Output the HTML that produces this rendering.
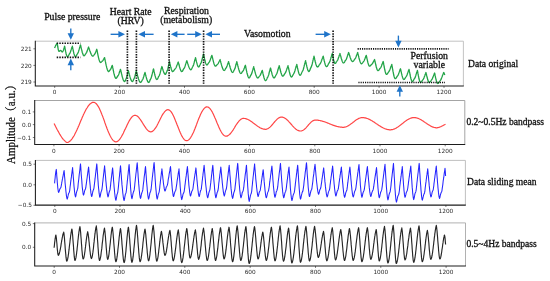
<!DOCTYPE html><html><head><meta charset="utf-8"><title>PPG signal decomposition</title>
<style>
html,body{margin:0;padding:0;background:#fff}
body{width:550px;height:281px;overflow:hidden}
svg{display:block}
.tk{font-family:"DejaVu Sans","Liberation Sans",sans-serif;font-size:5.8px;fill:#2a2a2a}
.lb{font-family:"Liberation Serif","Noto Serif CJK SC",serif;font-size:9.75px;fill:#111;stroke:#111;stroke-width:0.3}
.yl{font-family:"Liberation Serif","Noto Serif CJK SC",serif;font-size:11.8px;fill:#111;stroke:#111;stroke-width:0.25}
.dot{stroke:#111;stroke-width:1.65;stroke-dasharray:1.45 1.15;fill:none}
.ar{stroke:#1f74c9;stroke-width:1.35;fill:none}
.ah{fill:#1f74c9}
</style></head><body>
<svg width="550" height="281" viewBox="0 0 550 281" style="filter:blur(0.4px)">
<rect width="550" height="281" fill="#fff"/>
<path d="M35.3,41.2 H463.4 V86.0" fill="none" stroke="#bcbcbc" stroke-width="0.9"/>
<path d="M35.3,40.800000000000004 V86.0 H463.79999999999995" fill="none" stroke="#1c1c1c" stroke-width="1.05"/>
<line x1="33.4" y1="48.8" x2="35.3" y2="48.8" stroke="#222" stroke-width="0.6"/>
<text class="tk" x="31.8" y="50.90" text-anchor="end">221</text>
<line x1="33.4" y1="65.4" x2="35.3" y2="65.4" stroke="#222" stroke-width="0.6"/>
<text class="tk" x="31.8" y="67.50" text-anchor="end">220</text>
<line x1="33.4" y1="82.0" x2="35.3" y2="82.0" stroke="#222" stroke-width="0.6"/>
<text class="tk" x="31.8" y="84.10" text-anchor="end">219</text>
<line x1="54.7" y1="86.0" x2="54.7" y2="87.9" stroke="#222" stroke-width="0.6"/>
<text class="tk" x="54.7" y="94.10" text-anchor="middle">0</text>
<line x1="119.6" y1="86.0" x2="119.6" y2="87.9" stroke="#222" stroke-width="0.6"/>
<text class="tk" x="119.6" y="94.10" text-anchor="middle">200</text>
<line x1="184.5" y1="86.0" x2="184.5" y2="87.9" stroke="#222" stroke-width="0.6"/>
<text class="tk" x="184.5" y="94.10" text-anchor="middle">400</text>
<line x1="249.4" y1="86.0" x2="249.4" y2="87.9" stroke="#222" stroke-width="0.6"/>
<text class="tk" x="249.4" y="94.10" text-anchor="middle">600</text>
<line x1="314.2" y1="86.0" x2="314.2" y2="87.9" stroke="#222" stroke-width="0.6"/>
<text class="tk" x="314.2" y="94.10" text-anchor="middle">800</text>
<line x1="379.1" y1="86.0" x2="379.1" y2="87.9" stroke="#222" stroke-width="0.6"/>
<text class="tk" x="379.1" y="94.10" text-anchor="middle">1000</text>
<line x1="444.0" y1="86.0" x2="444.0" y2="87.9" stroke="#222" stroke-width="0.6"/>
<text class="tk" x="444.0" y="94.10" text-anchor="middle">1200</text>
<path d="M34.7,100.5 H464.8 V144.4" fill="none" stroke="#9a9a9a" stroke-width="0.9"/>
<path d="M34.7,100.1 V144.4 H465.2" fill="none" stroke="#1c1c1c" stroke-width="1.05"/>
<line x1="32.800000000000004" y1="111.9" x2="34.7" y2="111.9" stroke="#222" stroke-width="0.6"/>
<text class="tk" x="31.2" y="114.00" text-anchor="end">0.1</text>
<line x1="32.800000000000004" y1="124.6" x2="34.7" y2="124.6" stroke="#222" stroke-width="0.6"/>
<text class="tk" x="31.2" y="126.70" text-anchor="end">0.0</text>
<line x1="32.800000000000004" y1="137.5" x2="34.7" y2="137.5" stroke="#222" stroke-width="0.6"/>
<text class="tk" x="31.2" y="139.60" text-anchor="end">−0.1</text>
<line x1="53.9" y1="144.4" x2="53.9" y2="146.3" stroke="#222" stroke-width="0.6"/>
<text class="tk" x="53.9" y="152.60" text-anchor="middle">0</text>
<line x1="119.1" y1="144.4" x2="119.1" y2="146.3" stroke="#222" stroke-width="0.6"/>
<text class="tk" x="119.1" y="152.60" text-anchor="middle">200</text>
<line x1="184.3" y1="144.4" x2="184.3" y2="146.3" stroke="#222" stroke-width="0.6"/>
<text class="tk" x="184.3" y="152.60" text-anchor="middle">400</text>
<line x1="249.6" y1="144.4" x2="249.6" y2="146.3" stroke="#222" stroke-width="0.6"/>
<text class="tk" x="249.6" y="152.60" text-anchor="middle">600</text>
<line x1="314.8" y1="144.4" x2="314.8" y2="146.3" stroke="#222" stroke-width="0.6"/>
<text class="tk" x="314.8" y="152.60" text-anchor="middle">800</text>
<line x1="380.0" y1="144.4" x2="380.0" y2="146.3" stroke="#222" stroke-width="0.6"/>
<text class="tk" x="380.0" y="152.60" text-anchor="middle">1000</text>
<line x1="445.2" y1="144.4" x2="445.2" y2="146.3" stroke="#222" stroke-width="0.6"/>
<text class="tk" x="445.2" y="152.60" text-anchor="middle">1200</text>
<path d="M35.4,160.4 H465.4 V205.1" fill="none" stroke="#b8b8b8" stroke-width="0.9"/>
<path d="M35.4,160.0 V205.1 H465.79999999999995" fill="none" stroke="#1c1c1c" stroke-width="1.05"/>
<line x1="33.5" y1="164.2" x2="35.4" y2="164.2" stroke="#222" stroke-width="0.6"/>
<text class="tk" x="31.9" y="166.30" text-anchor="end">0.5</text>
<line x1="33.5" y1="184.8" x2="35.4" y2="184.8" stroke="#222" stroke-width="0.6"/>
<text class="tk" x="31.9" y="186.90" text-anchor="end">0.0</text>
<line x1="33.5" y1="205.3" x2="35.4" y2="205.3" stroke="#222" stroke-width="0.6"/>
<text class="tk" x="31.9" y="207.40" text-anchor="end">−0.5</text>
<line x1="54.8" y1="205.1" x2="54.8" y2="207.0" stroke="#222" stroke-width="0.6"/>
<text class="tk" x="54.8" y="213.00" text-anchor="middle">0</text>
<line x1="120.0" y1="205.1" x2="120.0" y2="207.0" stroke="#222" stroke-width="0.6"/>
<text class="tk" x="120.0" y="213.00" text-anchor="middle">200</text>
<line x1="185.2" y1="205.1" x2="185.2" y2="207.0" stroke="#222" stroke-width="0.6"/>
<text class="tk" x="185.2" y="213.00" text-anchor="middle">400</text>
<line x1="250.3" y1="205.1" x2="250.3" y2="207.0" stroke="#222" stroke-width="0.6"/>
<text class="tk" x="250.3" y="213.00" text-anchor="middle">600</text>
<line x1="315.5" y1="205.1" x2="315.5" y2="207.0" stroke="#222" stroke-width="0.6"/>
<text class="tk" x="315.5" y="213.00" text-anchor="middle">800</text>
<line x1="380.7" y1="205.1" x2="380.7" y2="207.0" stroke="#222" stroke-width="0.6"/>
<text class="tk" x="380.7" y="213.00" text-anchor="middle">1000</text>
<line x1="445.9" y1="205.1" x2="445.9" y2="207.0" stroke="#222" stroke-width="0.6"/>
<text class="tk" x="445.9" y="213.00" text-anchor="middle">1200</text>
<path d="M34.7,222.9 H465.5 V266.0" fill="none" stroke="#a8a8a8" stroke-width="0.9"/>
<path d="M34.7,222.5 V266.0 H465.9" fill="none" stroke="#1c1c1c" stroke-width="1.05"/>
<line x1="32.800000000000004" y1="223.6" x2="34.7" y2="223.6" stroke="#222" stroke-width="0.6"/>
<text class="tk" x="31.2" y="225.70" text-anchor="end">0.5</text>
<line x1="32.800000000000004" y1="247.3" x2="34.7" y2="247.3" stroke="#222" stroke-width="0.6"/>
<text class="tk" x="31.2" y="249.40" text-anchor="end">0.0</text>
<line x1="54.2" y1="266.0" x2="54.2" y2="267.9" stroke="#222" stroke-width="0.6"/>
<text class="tk" x="54.2" y="274.10" text-anchor="middle">0</text>
<line x1="119.5" y1="266.0" x2="119.5" y2="267.9" stroke="#222" stroke-width="0.6"/>
<text class="tk" x="119.5" y="274.10" text-anchor="middle">200</text>
<line x1="184.8" y1="266.0" x2="184.8" y2="267.9" stroke="#222" stroke-width="0.6"/>
<text class="tk" x="184.8" y="274.10" text-anchor="middle">400</text>
<line x1="250.2" y1="266.0" x2="250.2" y2="267.9" stroke="#222" stroke-width="0.6"/>
<text class="tk" x="250.2" y="274.10" text-anchor="middle">600</text>
<line x1="315.5" y1="266.0" x2="315.5" y2="267.9" stroke="#222" stroke-width="0.6"/>
<text class="tk" x="315.5" y="274.10" text-anchor="middle">800</text>
<line x1="380.8" y1="266.0" x2="380.8" y2="267.9" stroke="#222" stroke-width="0.6"/>
<text class="tk" x="380.8" y="274.10" text-anchor="middle">1000</text>
<line x1="446.1" y1="266.0" x2="446.1" y2="267.9" stroke="#222" stroke-width="0.6"/>
<text class="tk" x="446.1" y="274.10" text-anchor="middle">1200</text>
<path d="M54.6,48.0 L54.9,47.4 L55.1,46.8 L55.4,46.2 L55.6,45.6 L55.9,45.1 L56.2,44.6 L56.4,44.2 L56.7,43.8 L56.9,43.5 L57.2,43.3 L57.5,44.9 L57.7,46.5 L58.0,48.0 L58.2,49.3 L58.5,50.4 L58.7,51.1 L59.0,51.4 L59.3,51.3 L59.5,51.1 L59.8,50.9 L60.1,50.6 L60.3,50.5 L60.6,50.4 L60.8,50.5 L61.1,50.7 L61.3,51.0 L61.6,51.4 L61.8,51.7 L62.1,51.9 L62.3,52.0 L62.6,51.8 L62.8,51.5 L63.1,51.0 L63.3,50.4 L63.6,49.7 L63.8,48.9 L64.1,48.0 L64.3,47.1 L64.6,46.2 L64.9,47.5 L65.1,48.8 L65.4,50.2 L65.6,51.4 L65.9,52.6 L66.1,53.7 L66.4,54.7 L66.6,55.5 L66.9,56.1 L67.1,56.5 L67.4,56.7 L67.6,56.6 L67.9,56.4 L68.1,56.2 L68.4,55.8 L68.6,55.3 L68.9,54.8 L69.1,54.4 L69.4,54.0 L69.6,53.7 L69.8,53.3 L70.1,52.9 L70.3,52.3 L70.6,51.6 L70.8,50.7 L71.1,49.9 L71.3,49.1 L71.6,48.4 L71.8,47.6 L72.1,46.9 L72.3,46.2 L72.6,47.4 L72.8,48.6 L73.1,49.8 L73.3,51.0 L73.6,52.1 L73.8,53.2 L74.1,54.1 L74.4,55.0 L74.6,55.6 L74.9,56.2 L75.1,56.5 L75.4,56.7 L75.7,56.6 L75.9,56.4 L76.2,56.1 L76.4,55.7 L76.7,55.2 L76.9,54.6 L77.2,54.1 L77.4,53.7 L77.7,53.3 L78.0,52.9 L78.2,52.4 L78.5,51.7 L78.7,50.9 L79.0,50.0 L79.2,49.1 L79.5,48.2 L79.7,47.4 L80.0,46.5 L80.2,45.7 L80.5,44.9 L80.8,46.0 L81.0,47.1 L81.2,48.1 L81.5,49.2 L81.8,50.2 L82.0,51.2 L82.2,52.2 L82.5,53.0 L82.8,53.8 L83.0,54.4 L83.2,55.0 L83.5,55.4 L83.8,55.7 L84.0,55.8 L84.3,55.7 L84.5,55.5 L84.8,55.3 L85.0,54.9 L85.3,54.4 L85.5,54.0 L85.8,53.6 L86.0,53.3 L86.3,53.0 L86.6,52.5 L86.8,52.0 L87.1,51.3 L87.3,50.5 L87.6,49.7 L87.8,49.0 L88.1,48.3 L88.3,47.7 L88.6,47.0 L88.8,47.7 L89.1,48.5 L89.3,49.2 L89.6,50.0 L89.8,50.7 L90.1,51.5 L90.3,52.1 L90.6,52.8 L90.8,53.4 L91.1,54.0 L91.3,54.5 L91.6,55.0 L91.8,55.4 L92.1,55.7 L92.3,55.9 L92.6,56.1 L92.8,56.2 L93.0,56.1 L93.3,56.0 L93.5,55.7 L93.8,55.3 L94.0,54.9 L94.3,54.6 L94.5,54.3 L94.8,54.0 L95.0,53.6 L95.3,53.1 L95.5,52.4 L95.8,51.7 L96.0,51.1 L96.3,50.5 L96.5,49.9 L96.8,49.3 L97.0,50.5 L97.3,51.7 L97.5,53.0 L97.8,54.2 L98.0,55.3 L98.3,56.5 L98.5,57.6 L98.8,58.6 L99.0,59.5 L99.3,60.3 L99.5,61.0 L99.8,61.6 L100.0,62.0 L100.3,62.3 L100.5,62.5 L100.8,62.4 L101.0,62.3 L101.3,62.1 L101.5,61.9 L101.8,61.6 L102.0,61.3 L102.3,61.1 L102.5,60.9 L102.8,60.7 L103.1,60.3 L103.3,59.8 L103.6,59.3 L103.8,58.9 L104.1,58.4 L104.3,58.0 L104.6,57.6 L104.8,58.8 L105.1,60.0 L105.3,61.2 L105.6,62.4 L105.8,63.6 L106.1,64.8 L106.3,65.9 L106.6,66.9 L106.8,67.9 L107.1,68.8 L107.3,69.5 L107.6,70.2 L107.8,70.7 L108.1,71.2 L108.3,71.4 L108.6,71.6 L108.8,71.5 L109.1,71.3 L109.3,71.1 L109.6,70.7 L109.8,70.3 L110.1,70.0 L110.3,69.7 L110.6,69.4 L110.8,69.0 L111.1,68.4 L111.3,67.7 L111.6,67.1 L111.8,66.5 L112.1,65.9 L112.3,65.3 L112.6,66.6 L112.8,67.9 L113.1,69.2 L113.3,70.5 L113.6,71.7 L113.8,72.9 L114.1,74.0 L114.4,75.0 L114.6,76.0 L114.9,76.7 L115.1,77.4 L115.4,77.9 L115.6,78.2 L115.9,78.4 L116.2,78.3 L116.4,78.1 L116.7,77.8 L116.9,77.4 L117.2,77.0 L117.4,76.5 L117.7,76.2 L117.9,75.8 L118.2,75.5 L118.5,75.0 L118.7,74.5 L119.0,73.7 L119.2,72.9 L119.5,72.1 L119.7,71.4 L120.0,70.7 L120.2,70.0 L120.5,69.3 L120.8,70.4 L121.0,71.4 L121.2,72.5 L121.5,73.6 L121.8,74.6 L122.0,75.6 L122.2,76.6 L122.5,77.5 L122.8,78.3 L123.0,79.1 L123.2,79.8 L123.5,80.4 L123.8,80.8 L124.0,81.2 L124.2,81.5 L124.5,81.6 L124.8,81.5 L125.0,81.2 L125.3,80.7 L125.5,80.0 L125.8,79.3 L126.0,78.8 L126.3,78.3 L126.5,77.8 L126.8,77.0 L127.0,75.9 L127.3,74.8 L127.5,73.7 L127.8,72.6 L128.0,71.6 L128.3,70.6 L128.6,71.5 L128.8,72.5 L129.1,73.5 L129.3,74.4 L129.6,75.3 L129.8,76.2 L130.1,77.1 L130.3,77.9 L130.6,78.7 L130.8,79.4 L131.1,80.0 L131.3,80.5 L131.6,80.9 L131.8,81.3 L132.1,81.5 L132.3,81.6 L132.6,81.5 L132.8,81.2 L133.1,80.8 L133.3,80.2 L133.6,79.6 L133.8,79.0 L134.1,78.6 L134.3,78.1 L134.6,77.5 L134.8,76.7 L135.1,75.6 L135.3,74.6 L135.6,73.5 L135.8,72.6 L136.1,71.6 L136.3,70.7 L136.5,71.7 L136.8,72.6 L137.0,73.6 L137.3,74.5 L137.5,75.5 L137.8,76.4 L138.0,77.3 L138.3,78.2 L138.5,78.9 L138.8,79.7 L139.0,80.3 L139.3,80.9 L139.5,81.4 L139.8,81.8 L140.0,82.2 L140.3,82.4 L140.5,82.5 L140.8,82.4 L141.0,82.2 L141.2,81.9 L141.5,81.5 L141.8,80.9 L142.0,80.5 L142.2,80.0 L142.5,79.7 L142.8,79.3 L143.0,78.8 L143.2,78.2 L143.5,77.3 L143.8,76.5 L144.0,75.6 L144.2,74.8 L144.5,74.0 L144.8,73.3 L145.0,72.5 L145.3,73.5 L145.5,74.5 L145.8,75.5 L146.0,76.4 L146.3,77.4 L146.5,78.3 L146.8,79.2 L147.1,79.9 L147.3,80.6 L147.6,81.2 L147.8,81.7 L148.1,82.1 L148.3,82.4 L148.6,82.5 L148.8,82.4 L149.1,82.2 L149.3,81.8 L149.6,81.3 L149.8,80.7 L150.1,80.1 L150.3,79.5 L150.6,79.1 L150.8,78.6 L151.1,78.1 L151.3,77.5 L151.5,76.8 L151.8,75.8 L152.0,74.8 L152.3,73.7 L152.5,72.7 L152.8,71.7 L153.0,70.8 L153.3,69.8 L153.5,68.9 L153.8,70.0 L154.0,71.2 L154.3,72.3 L154.5,73.4 L154.8,74.5 L155.0,75.5 L155.3,76.4 L155.5,77.2 L155.8,78.0 L156.0,78.6 L156.3,79.0 L156.5,79.3 L156.8,79.5 L157.1,79.4 L157.3,79.2 L157.6,78.9 L157.8,78.4 L158.1,77.8 L158.3,77.2 L158.6,76.7 L158.8,76.2 L159.1,75.8 L159.4,75.3 L159.6,74.8 L159.9,74.0 L160.1,73.1 L160.4,72.1 L160.6,71.1 L160.9,70.1 L161.1,69.2 L161.4,68.3 L161.6,67.4 L161.9,66.5 L162.1,67.3 L162.4,68.1 L162.6,68.8 L162.9,69.6 L163.1,70.4 L163.4,71.1 L163.6,71.8 L163.8,72.4 L164.1,72.9 L164.3,73.4 L164.6,73.8 L164.8,74.1 L165.1,74.3 L165.3,74.4 L165.5,74.3 L165.8,74.0 L166.0,73.5 L166.3,72.9 L166.5,72.2 L166.8,71.6 L167.0,71.1 L167.3,70.6 L167.5,70.0 L167.8,69.2 L168.0,68.2 L168.3,67.0 L168.5,65.8 L168.8,64.7 L169.0,63.7 L169.3,62.6 L169.5,61.6 L169.8,62.7 L170.0,63.9 L170.3,65.1 L170.5,66.2 L170.8,67.3 L171.1,68.3 L171.3,69.2 L171.6,69.9 L171.8,70.6 L172.1,71.1 L172.3,71.4 L172.6,71.6 L172.8,71.5 L173.1,71.4 L173.3,71.2 L173.6,71.0 L173.8,70.6 L174.1,70.2 L174.3,69.9 L174.6,69.5 L174.8,69.2 L175.1,69.0 L175.3,68.7 L175.6,68.3 L175.8,68.0 L176.1,67.5 L176.3,66.9 L176.6,66.2 L176.8,65.6 L177.1,64.9 L177.3,64.3 L177.6,63.7 L177.8,63.1 L178.1,62.6 L178.3,62.0 L178.5,62.9 L178.8,63.9 L179.0,64.8 L179.3,65.8 L179.5,66.7 L179.8,67.6 L180.0,68.4 L180.2,69.1 L180.5,69.8 L180.7,70.4 L181.0,70.9 L181.2,71.2 L181.5,71.5 L181.7,71.6 L182.0,71.5 L182.2,71.3 L182.5,71.1 L182.7,70.7 L183.0,70.2 L183.2,69.7 L183.5,69.2 L183.7,68.8 L184.0,68.5 L184.2,68.1 L184.5,67.6 L184.8,67.0 L185.0,66.3 L185.3,65.4 L185.5,64.6 L185.8,63.7 L186.0,63.0 L186.3,62.2 L186.5,61.4 L186.8,60.7 L187.1,61.5 L187.3,62.3 L187.6,63.1 L187.8,63.8 L188.1,64.6 L188.3,65.4 L188.6,66.1 L188.8,66.8 L189.1,67.4 L189.3,68.0 L189.6,68.5 L189.8,68.9 L190.1,69.2 L190.3,69.5 L190.6,69.7 L190.8,69.8 L191.0,69.7 L191.3,69.5 L191.5,69.1 L191.8,68.6 L192.0,68.1 L192.3,67.5 L192.5,67.0 L192.8,66.5 L193.0,66.1 L193.3,65.6 L193.5,65.0 L193.8,64.2 L194.0,63.2 L194.3,62.2 L194.5,61.2 L194.8,60.3 L195.0,59.4 L195.3,58.5 L195.5,57.6 L195.8,58.7 L196.0,59.8 L196.3,60.9 L196.5,61.9 L196.8,62.9 L197.1,63.9 L197.3,64.7 L197.6,65.4 L197.8,66.1 L198.1,66.5 L198.3,66.8 L198.6,67.0 L198.8,66.9 L199.1,66.7 L199.3,66.4 L199.6,65.9 L199.8,65.3 L200.1,64.7 L200.3,64.2 L200.6,63.7 L200.8,63.3 L201.1,62.8 L201.3,62.3 L201.5,61.5 L201.8,60.6 L202.0,59.6 L202.3,58.6 L202.5,57.6 L202.8,56.7 L203.0,55.8 L203.3,54.9 L203.5,54.0 L203.8,55.2 L204.0,56.3 L204.3,57.5 L204.5,58.7 L204.8,59.8 L205.0,60.8 L205.3,61.8 L205.5,62.7 L205.8,63.4 L206.0,64.0 L206.3,64.5 L206.5,64.8 L206.8,65.0 L207.1,64.9 L207.3,64.8 L207.6,64.5 L207.8,64.2 L208.1,63.7 L208.3,63.3 L208.6,62.9 L208.8,62.6 L209.1,62.2 L209.4,61.9 L209.6,61.5 L209.9,60.9 L210.1,60.3 L210.4,59.5 L210.6,58.7 L210.9,58.0 L211.1,57.3 L211.4,56.6 L211.6,56.0 L211.9,55.3 L212.2,56.4 L212.4,57.5 L212.7,58.5 L212.9,59.6 L213.2,60.6 L213.4,61.6 L213.7,62.6 L213.9,63.4 L214.2,64.2 L214.4,64.8 L214.7,65.4 L214.9,65.8 L215.2,66.1 L215.4,66.2 L215.6,66.1 L215.9,66.0 L216.1,65.8 L216.4,65.6 L216.6,65.2 L216.9,64.9 L217.1,64.7 L217.4,64.4 L217.6,64.2 L217.9,63.9 L218.1,63.6 L218.4,63.1 L218.6,62.6 L218.9,62.0 L219.1,61.5 L219.4,61.0 L219.6,60.5 L219.9,60.0 L220.1,59.5 L220.3,60.4 L220.6,61.4 L220.8,62.4 L221.1,63.3 L221.3,64.2 L221.6,65.1 L221.8,66.0 L222.1,66.8 L222.3,67.6 L222.6,68.3 L222.8,68.9 L223.1,69.4 L223.3,69.8 L223.6,70.2 L223.8,70.4 L224.1,70.5 L224.3,70.4 L224.6,70.2 L224.8,70.0 L225.1,69.6 L225.3,69.1 L225.6,68.7 L225.8,68.3 L226.1,68.0 L226.3,67.6 L226.6,67.2 L226.8,66.6 L227.1,65.9 L227.3,65.1 L227.6,64.4 L227.8,63.7 L228.1,63.0 L228.3,62.3 L228.6,61.6 L228.8,62.5 L229.1,63.5 L229.3,64.4 L229.6,65.4 L229.8,66.3 L230.1,67.2 L230.3,68.0 L230.6,68.9 L230.8,69.6 L231.1,70.3 L231.3,70.9 L231.6,71.4 L231.8,71.8 L232.1,72.2 L232.3,72.4 L232.6,72.5 L232.8,72.4 L233.1,72.1 L233.3,71.8 L233.6,71.2 L233.8,70.6 L234.1,70.1 L234.3,69.7 L234.6,69.2 L234.8,68.7 L235.1,68.1 L235.3,67.2 L235.6,66.2 L235.8,65.2 L236.1,64.3 L236.3,63.4 L236.6,62.5 L236.8,61.6 L237.1,62.6 L237.3,63.7 L237.6,64.7 L237.8,65.7 L238.1,66.7 L238.3,67.7 L238.6,68.6 L238.8,69.5 L239.1,70.3 L239.3,71.1 L239.6,71.7 L239.8,72.3 L240.1,72.8 L240.3,73.1 L240.6,73.4 L240.8,73.5 L241.1,73.4 L241.3,73.3 L241.6,73.0 L241.8,72.6 L242.1,72.2 L242.3,71.8 L242.6,71.5 L242.8,71.2 L243.1,70.9 L243.4,70.5 L243.6,69.9 L243.9,69.3 L244.1,68.6 L244.4,67.9 L244.6,67.2 L244.9,66.6 L245.1,65.9 L245.4,65.3 L245.7,66.5 L245.9,67.8 L246.2,69.1 L246.4,70.3 L246.7,71.5 L246.9,72.7 L247.2,73.8 L247.5,74.7 L247.7,75.6 L248.0,76.4 L248.2,77.0 L248.5,77.5 L248.7,77.8 L249.0,78.0 L249.2,77.9 L249.5,77.7 L249.7,77.4 L250.0,76.9 L250.2,76.4 L250.5,75.8 L250.7,75.4 L251.0,75.0 L251.2,74.6 L251.5,74.1 L251.7,73.5 L252.0,72.8 L252.2,71.9 L252.5,70.9 L252.7,70.0 L253.0,69.2 L253.2,68.3 L253.5,67.5 L253.7,66.7 L253.9,67.7 L254.2,68.6 L254.4,69.6 L254.7,70.6 L254.9,71.6 L255.2,72.5 L255.4,73.4 L255.7,74.2 L255.9,75.0 L256.2,75.7 L256.4,76.3 L256.7,76.9 L256.9,77.3 L257.2,77.6 L257.4,77.9 L257.7,78.0 L258.0,77.9 L258.2,77.8 L258.5,77.5 L258.7,77.2 L259.0,76.8 L259.2,76.4 L259.5,76.1 L259.7,75.9 L260.0,75.6 L260.3,75.2 L260.5,74.7 L260.8,74.1 L261.0,73.4 L261.3,72.8 L261.5,72.2 L261.8,71.6 L262.0,71.0 L262.3,70.4 L262.5,71.5 L262.8,72.6 L263.0,73.7 L263.3,74.8 L263.5,75.8 L263.8,76.8 L264.0,77.7 L264.3,78.5 L264.5,79.2 L264.8,79.8 L265.0,80.2 L265.3,80.5 L265.5,80.7 L265.8,80.6 L266.0,80.4 L266.2,80.1 L266.5,79.6 L266.8,79.0 L267.0,78.5 L267.2,77.9 L267.5,77.5 L267.8,77.1 L268.0,76.6 L268.2,76.1 L268.5,75.4 L268.8,74.5 L269.0,73.5 L269.2,72.5 L269.5,71.5 L269.8,70.6 L270.0,69.7 L270.2,68.9 L270.5,68.0 L270.8,69.0 L271.0,70.0 L271.2,71.0 L271.5,71.9 L271.8,72.9 L272.0,73.8 L272.2,74.7 L272.5,75.4 L272.8,76.1 L273.0,76.7 L273.2,77.2 L273.5,77.6 L273.8,77.9 L274.0,78.0 L274.2,77.9 L274.5,77.7 L274.7,77.4 L275.0,77.0 L275.2,76.5 L275.5,76.0 L275.7,75.5 L276.0,75.0 L276.2,74.6 L276.5,74.2 L276.7,73.8 L277.0,73.2 L277.2,72.5 L277.5,71.6 L277.7,70.7 L278.0,69.8 L278.2,68.9 L278.5,68.1 L278.7,67.2 L279.0,66.4 L279.2,65.6 L279.5,66.6 L279.7,67.7 L280.0,68.7 L280.2,69.8 L280.5,70.8 L280.7,71.8 L281.0,72.7 L281.3,73.5 L281.5,74.2 L281.8,74.9 L282.0,75.4 L282.3,75.8 L282.5,76.1 L282.8,76.2 L283.0,76.1 L283.3,76.0 L283.5,75.7 L283.8,75.4 L284.0,74.9 L284.3,74.5 L284.5,74.0 L284.8,73.7 L285.0,73.3 L285.3,73.0 L285.5,72.6 L285.8,72.1 L286.0,71.5 L286.3,70.7 L286.5,69.9 L286.8,69.2 L287.0,68.4 L287.3,67.7 L287.5,67.0 L287.8,66.3 L288.0,65.6 L288.2,66.7 L288.5,67.8 L288.7,69.0 L289.0,70.1 L289.2,71.2 L289.5,72.2 L289.7,73.2 L289.9,74.1 L290.2,74.9 L290.4,75.6 L290.7,76.1 L290.9,76.6 L291.2,76.8 L291.4,77.0 L291.6,76.9 L291.9,76.7 L292.1,76.5 L292.4,76.1 L292.6,75.6 L292.9,75.1 L293.1,74.6 L293.4,74.1 L293.6,73.7 L293.9,73.4 L294.1,72.9 L294.3,72.5 L294.6,71.9 L294.8,71.1 L295.1,70.2 L295.3,69.3 L295.6,68.4 L295.8,67.6 L296.1,66.8 L296.3,66.0 L296.6,65.2 L296.8,64.4 L297.0,65.6 L297.3,66.7 L297.5,67.9 L297.8,69.0 L298.0,70.1 L298.3,71.2 L298.5,72.1 L298.8,73.0 L299.0,73.7 L299.3,74.3 L299.5,74.8 L299.8,75.1 L300.0,75.3 L300.3,75.2 L300.5,75.0 L300.8,74.7 L301.0,74.3 L301.3,73.7 L301.5,73.1 L301.8,72.5 L302.0,72.0 L302.3,71.5 L302.5,71.1 L302.8,70.6 L303.1,70.0 L303.3,69.3 L303.6,68.5 L303.8,67.4 L304.1,66.4 L304.3,65.4 L304.6,64.4 L304.8,63.5 L305.1,62.5 L305.3,61.6 L305.6,60.7 L305.8,61.9 L306.1,63.0 L306.3,64.2 L306.6,65.3 L306.8,66.4 L307.1,67.5 L307.3,68.4 L307.6,69.3 L307.8,70.0 L308.1,70.6 L308.3,71.1 L308.6,71.4 L308.8,71.6 L309.0,71.5 L309.3,71.3 L309.5,70.9 L309.8,70.4 L310.0,69.8 L310.3,69.1 L310.5,68.4 L310.8,67.9 L311.0,67.4 L311.3,66.9 L311.5,66.3 L311.8,65.6 L312.0,64.8 L312.3,63.7 L312.5,62.5 L312.8,61.4 L313.0,60.3 L313.3,59.2 L313.5,58.2 L313.8,57.2 L314.0,56.2 L314.2,57.3 L314.5,58.3 L314.7,59.4 L315.0,60.5 L315.2,61.5 L315.5,62.5 L315.7,63.4 L315.9,64.2 L316.2,65.0 L316.4,65.6 L316.7,66.2 L316.9,66.6 L317.2,66.9 L317.4,67.0 L317.7,66.9 L317.9,66.8 L318.2,66.6 L318.4,66.3 L318.7,65.9 L318.9,65.5 L319.2,65.0 L319.4,64.7 L319.7,64.3 L319.9,64.0 L320.2,63.7 L320.4,63.3 L320.7,62.9 L320.9,62.3 L321.2,61.7 L321.4,60.9 L321.7,60.2 L321.9,59.5 L322.2,58.8 L322.4,58.1 L322.7,57.5 L322.9,56.8 L323.2,56.2 L323.5,57.3 L323.7,58.4 L324.0,59.6 L324.2,60.7 L324.5,61.7 L324.7,62.7 L325.0,63.6 L325.2,64.5 L325.5,65.2 L325.7,65.8 L326.0,66.2 L326.2,66.5 L326.5,66.7 L326.8,66.6 L327.0,66.4 L327.3,66.2 L327.5,65.8 L327.8,65.4 L328.0,64.8 L328.3,64.3 L328.5,63.8 L328.8,63.4 L329.0,63.1 L329.3,62.7 L329.5,62.2 L329.8,61.7 L330.0,61.0 L330.3,60.2 L330.5,59.3 L330.8,58.4 L331.0,57.5 L331.3,56.7 L331.5,55.9 L331.8,55.1 L332.0,54.3 L332.3,53.5 L332.5,54.7 L332.8,56.0 L333.0,57.3 L333.3,58.5 L333.5,59.6 L333.8,60.7 L334.0,61.6 L334.3,62.3 L334.5,62.9 L334.8,63.3 L335.0,63.5 L335.2,63.4 L335.5,63.3 L335.8,63.0 L336.0,62.6 L336.2,62.2 L336.5,61.7 L336.8,61.3 L337.0,61.0 L337.2,60.6 L337.5,60.3 L337.8,59.9 L338.0,59.3 L338.2,58.6 L338.5,57.8 L338.8,57.0 L339.0,56.3 L339.2,55.6 L339.5,54.9 L339.8,54.2 L340.0,53.5 L340.2,54.4 L340.5,55.4 L340.8,56.3 L341.0,57.2 L341.2,58.2 L341.5,59.0 L341.8,59.8 L342.0,60.6 L342.2,61.2 L342.5,61.8 L342.8,62.3 L343.0,62.6 L343.2,62.9 L343.5,63.0 L343.8,62.9 L344.0,62.7 L344.3,62.5 L344.5,62.1 L344.8,61.6 L345.0,61.1 L345.3,60.7 L345.5,60.3 L345.8,60.0 L346.1,59.6 L346.3,59.2 L346.6,58.6 L346.8,57.9 L347.1,57.0 L347.3,56.2 L347.6,55.4 L347.8,54.7 L348.1,53.9 L348.3,53.2 L348.6,52.5 L348.9,53.3 L349.1,54.1 L349.4,54.9 L349.6,55.6 L349.9,56.4 L350.1,57.2 L350.4,57.9 L350.6,58.6 L350.9,59.2 L351.1,59.8 L351.4,60.3 L351.6,60.7 L351.9,61.0 L352.1,61.3 L352.4,61.5 L352.6,61.6 L352.9,61.5 L353.1,61.4 L353.4,61.1 L353.6,60.8 L353.9,60.4 L354.1,60.0 L354.4,59.6 L354.6,59.3 L354.9,59.0 L355.1,58.7 L355.4,58.3 L355.7,57.8 L355.9,57.1 L356.2,56.4 L356.4,55.7 L356.7,55.0 L356.9,54.4 L357.2,53.8 L357.4,53.1 L357.7,52.5 L357.9,53.5 L358.2,54.6 L358.4,55.6 L358.7,56.7 L358.9,57.7 L359.2,58.7 L359.4,59.6 L359.7,60.4 L359.9,61.2 L360.2,61.9 L360.4,62.5 L360.7,63.0 L360.9,63.4 L361.2,63.7 L361.4,63.8 L361.6,63.7 L361.9,63.6 L362.1,63.4 L362.4,63.1 L362.6,62.7 L362.9,62.3 L363.1,62.0 L363.4,61.7 L363.6,61.4 L363.9,61.1 L364.1,60.7 L364.3,60.2 L364.6,59.6 L364.8,59.0 L365.1,58.3 L365.3,57.7 L365.6,57.1 L365.8,56.5 L366.1,55.9 L366.3,55.3 L366.5,56.5 L366.8,57.6 L367.0,58.8 L367.3,59.9 L367.5,61.0 L367.8,62.1 L368.0,63.0 L368.3,63.9 L368.5,64.6 L368.8,65.2 L369.0,65.7 L369.3,66.0 L369.5,66.2 L369.8,66.1 L370.0,66.0 L370.3,65.9 L370.5,65.6 L370.8,65.3 L371.0,65.0 L371.3,64.7 L371.5,64.5 L371.8,64.3 L372.1,64.0 L372.3,63.8 L372.6,63.4 L372.8,62.9 L373.1,62.4 L373.3,61.9 L373.6,61.4 L373.8,60.9 L374.1,60.4 L374.3,60.0 L374.6,59.5 L374.8,60.6 L375.1,61.7 L375.3,62.8 L375.6,63.9 L375.8,65.0 L376.1,66.0 L376.3,67.0 L376.5,67.8 L376.8,68.6 L377.0,69.3 L377.3,69.8 L377.5,70.3 L377.8,70.5 L378.0,70.7 L378.2,70.6 L378.5,70.5 L378.7,70.3 L379.0,70.0 L379.2,69.6 L379.5,69.2 L379.7,68.8 L380.0,68.5 L380.2,68.2 L380.5,67.9 L380.7,67.6 L381.0,67.1 L381.2,66.6 L381.5,66.0 L381.7,65.3 L382.0,64.6 L382.2,63.9 L382.5,63.3 L382.7,62.7 L383.0,62.1 L383.2,61.5 L383.5,62.9 L383.7,64.2 L384.0,65.6 L384.2,67.0 L384.5,68.3 L384.7,69.5 L385.0,70.6 L385.2,71.7 L385.5,72.5 L385.7,73.3 L386.0,73.8 L386.2,74.2 L386.5,74.4 L386.8,74.3 L387.0,74.2 L387.3,73.9 L387.5,73.6 L387.8,73.2 L388.0,72.8 L388.3,72.4 L388.5,72.0 L388.8,71.7 L389.0,71.4 L389.3,71.0 L389.5,70.5 L389.8,70.0 L390.0,69.2 L390.3,68.5 L390.5,67.8 L390.8,67.1 L391.0,66.4 L391.3,65.7 L391.5,65.1 L391.8,64.4 L392.0,65.8 L392.3,67.2 L392.5,68.6 L392.8,70.0 L393.0,71.4 L393.3,72.7 L393.5,73.9 L393.7,75.0 L394.0,76.0 L394.2,76.9 L394.5,77.6 L394.7,78.1 L395.0,78.5 L395.2,78.7 L395.5,78.6 L395.7,78.5 L396.0,78.2 L396.2,77.9 L396.5,77.5 L396.7,77.1 L397.0,76.7 L397.2,76.3 L397.5,76.0 L397.7,75.7 L398.0,75.3 L398.2,74.9 L398.5,74.3 L398.7,73.6 L399.0,72.8 L399.2,72.1 L399.5,71.4 L399.7,70.8 L400.0,70.1 L400.2,69.4 L400.5,68.8 L400.8,69.9 L401.0,71.1 L401.3,72.2 L401.5,73.3 L401.8,74.4 L402.0,75.4 L402.3,76.4 L402.5,77.2 L402.8,78.0 L403.0,78.6 L403.3,79.0 L403.5,79.3 L403.8,79.5 L404.0,79.4 L404.3,79.3 L404.5,79.0 L404.8,78.7 L405.0,78.3 L405.3,77.8 L405.5,77.4 L405.8,77.1 L406.0,76.7 L406.3,76.4 L406.5,76.0 L406.8,75.6 L407.0,75.0 L407.3,74.2 L407.5,73.5 L407.8,72.7 L408.0,72.0 L408.3,71.3 L408.5,70.6 L408.8,70.0 L409.0,69.3 L409.3,70.6 L409.5,71.9 L409.8,73.2 L410.0,74.5 L410.3,75.8 L410.5,76.9 L410.8,78.0 L411.0,79.0 L411.3,79.8 L411.5,80.5 L411.8,81.1 L412.0,81.4 L412.3,81.6 L412.6,81.5 L412.8,81.3 L413.1,81.0 L413.3,80.6 L413.6,80.1 L413.8,79.6 L414.1,79.2 L414.3,78.8 L414.6,78.4 L414.9,78.0 L415.1,77.5 L415.4,76.9 L415.6,76.1 L415.9,75.2 L416.1,74.4 L416.4,73.5 L416.6,72.7 L416.9,71.9 L417.1,71.2 L417.4,70.4 L417.7,71.8 L417.9,73.2 L418.2,74.6 L418.4,75.9 L418.7,77.2 L418.9,78.5 L419.2,79.5 L419.5,80.5 L419.7,81.3 L420.0,81.9 L420.2,82.3 L420.5,82.5 L420.8,82.4 L421.0,82.3 L421.2,82.1 L421.5,81.8 L421.8,81.4 L422.0,81.0 L422.2,80.6 L422.5,80.2 L422.8,79.9 L423.0,79.6 L423.2,79.3 L423.5,78.9 L423.8,78.4 L424.0,77.8 L424.2,77.1 L424.5,76.4 L424.8,75.7 L425.0,75.0 L425.2,74.4 L425.5,73.8 L425.8,73.1 L426.0,72.5 L426.2,73.6 L426.5,74.6 L426.7,75.7 L427.0,76.7 L427.2,77.8 L427.5,78.7 L427.7,79.6 L428.0,80.4 L428.2,81.1 L428.5,81.6 L428.7,82.1 L429.0,82.4 L429.2,82.5 L429.4,82.4 L429.7,82.3 L429.9,82.1 L430.2,81.8 L430.4,81.5 L430.7,81.1 L430.9,80.7 L431.2,80.3 L431.4,80.0 L431.7,79.8 L431.9,79.4 L432.1,79.1 L432.4,78.6 L432.6,78.0 L432.9,77.4 L433.1,76.7 L433.4,76.0 L433.6,75.4 L433.9,74.8 L434.1,74.2 L434.4,73.6 L434.6,73.0 L434.9,74.2 L435.1,75.4 L435.4,76.6 L435.6,77.8 L435.9,78.9 L436.1,80.0 L436.4,80.9 L436.7,81.8 L436.9,82.4 L437.2,83.0 L437.4,83.3 L437.7,83.5 L437.9,83.4 L438.2,83.3 L438.4,83.1 L438.7,82.8 L438.9,82.5 L439.2,82.1 L439.4,81.6 L439.7,81.2 L439.9,80.9 L440.2,80.6 L440.4,80.3 L440.7,80.0 L440.9,79.6 L441.2,79.1 L441.4,78.5 L441.7,77.8 L441.9,77.1 L442.2,76.4 L442.4,75.7 L442.7,75.0 L442.9,74.4 L443.2,73.8 L443.4,73.1 L443.7,72.5 L444.0,72.9 L444.2,73.4 L444.5,74.2 L444.8,75.0" fill="none" stroke="#22a447" stroke-width="1.3" stroke-linejoin="round"/>
<path d="M54.1,123.4 L54.6,124.4 L55.1,125.4 L55.6,126.5 L56.1,127.5 L56.6,128.5 L57.1,129.5 L57.7,130.4 L58.2,131.4 L58.7,132.3 L59.2,133.2 L59.7,134.1 L60.2,134.9 L60.7,135.7 L61.2,136.5 L61.7,137.3 L62.2,138.0 L62.7,138.6 L63.2,139.3 L63.8,139.9 L64.3,140.4 L64.8,140.9 L65.3,141.4 L65.8,141.8 L66.3,142.2 L66.8,142.5 L67.3,142.5 L67.8,142.4 L68.3,142.2 L68.8,141.9 L69.3,141.6 L69.8,141.2 L70.3,140.8 L70.8,140.3 L71.3,139.7 L71.8,139.1 L72.3,138.4 L72.8,137.6 L73.3,136.8 L73.9,136.0 L74.4,135.1 L74.9,134.1 L75.4,133.1 L75.9,132.1 L76.4,131.0 L76.9,130.0 L77.4,128.8 L77.9,127.7 L78.4,126.5 L78.9,125.4 L79.4,124.2 L79.9,123.0 L80.4,121.8 L80.9,120.6 L81.4,119.4 L81.9,118.3 L82.4,117.1 L82.9,116.0 L83.4,114.8 L83.9,113.8 L84.4,112.7 L84.9,111.7 L85.4,110.7 L85.9,109.7 L86.4,108.8 L87.0,108.0 L87.5,107.2 L88.0,106.4 L88.5,105.7 L89.0,105.1 L89.5,104.5 L90.0,104.0 L90.5,103.6 L91.0,103.2 L91.5,102.9 L92.0,102.6 L92.5,102.4 L93.0,102.3 L93.5,102.3 L94.0,102.3 L94.5,102.5 L95.0,102.7 L95.5,103.1 L96.0,103.5 L96.5,104.0 L97.0,104.6 L97.5,105.3 L98.0,106.1 L98.5,106.9 L99.0,107.8 L99.5,108.8 L100.0,109.9 L100.5,111.0 L101.0,112.2 L101.5,113.4 L102.0,114.7 L102.5,115.9 L103.0,117.3 L103.5,118.6 L104.0,120.0 L104.5,121.4 L104.9,122.7 L105.4,124.1 L105.9,125.5 L106.4,126.8 L106.9,128.2 L107.4,129.4 L107.9,130.7 L108.4,131.9 L108.9,133.1 L109.4,134.2 L109.9,135.3 L110.4,136.3 L110.9,137.2 L111.4,138.0 L111.9,138.8 L112.4,139.5 L112.9,140.1 L113.4,140.6 L113.9,141.0 L114.4,141.4 L114.9,141.6 L115.4,141.8 L115.9,141.8 L116.4,141.8 L116.9,141.6 L117.4,141.4 L117.9,141.1 L118.4,140.7 L118.9,140.2 L119.4,139.6 L119.9,139.0 L120.4,138.3 L120.9,137.5 L121.4,136.7 L121.9,135.8 L122.4,134.9 L122.9,133.9 L123.4,132.9 L123.9,131.8 L124.4,130.7 L124.9,129.6 L125.5,128.6 L126.0,127.5 L126.5,126.4 L127.0,125.3 L127.5,124.2 L128.0,123.2 L128.5,122.2 L129.0,121.3 L129.5,120.4 L130.0,119.6 L130.5,118.8 L131.0,118.1 L131.5,117.5 L132.0,116.9 L132.5,116.4 L133.0,116.0 L133.5,115.7 L134.0,115.5 L134.5,115.3 L135.0,115.3 L135.5,115.3 L136.0,115.5 L136.5,115.7 L137.0,115.9 L137.5,116.3 L138.0,116.7 L138.5,117.2 L138.9,117.7 L139.4,118.3 L139.9,119.0 L140.4,119.7 L140.9,120.4 L141.4,121.2 L141.9,121.9 L142.4,122.7 L142.9,123.5 L143.4,124.4 L143.9,125.2 L144.4,125.9 L144.9,126.7 L145.4,127.4 L145.9,128.1 L146.4,128.8 L146.9,129.4 L147.3,129.9 L147.8,130.4 L148.3,130.8 L148.8,131.2 L149.3,131.4 L149.8,131.6 L150.3,131.8 L150.8,131.8 L151.3,131.8 L151.8,131.6 L152.3,131.4 L152.8,131.1 L153.3,130.6 L153.8,130.1 L154.3,129.6 L154.8,128.9 L155.4,128.2 L155.9,127.4 L156.4,126.6 L156.9,125.7 L157.4,124.7 L157.9,123.8 L158.4,122.8 L158.9,121.8 L159.4,120.8 L159.9,119.7 L160.4,118.7 L160.9,117.7 L161.4,116.8 L161.9,115.8 L162.4,114.9 L162.9,114.1 L163.4,113.3 L164.0,112.6 L164.5,111.9 L165.0,111.4 L165.5,110.9 L166.0,110.4 L166.5,110.1 L167.0,109.9 L167.5,109.7 L168.0,109.7 L168.5,109.8 L169.0,109.9 L169.5,110.2 L170.0,110.6 L170.5,111.1 L171.0,111.7 L171.5,112.4 L172.0,113.1 L172.5,114.0 L173.0,115.0 L173.5,116.0 L174.0,117.1 L174.5,118.2 L175.0,119.4 L175.5,120.7 L176.0,121.9 L176.5,123.2 L177.0,124.5 L177.6,125.9 L178.1,127.2 L178.6,128.5 L179.1,129.7 L179.6,131.0 L180.1,132.2 L180.6,133.3 L181.1,134.4 L181.6,135.4 L182.1,136.4 L182.6,137.3 L183.1,138.0 L183.6,138.7 L184.1,139.3 L184.6,139.8 L185.1,140.2 L185.6,140.5 L186.1,140.6 L186.6,140.7 L187.1,140.7 L187.6,140.5 L188.1,140.3 L188.6,139.9 L189.1,139.5 L189.6,138.9 L190.1,138.3 L190.6,137.6 L191.1,136.8 L191.6,136.0 L192.1,135.0 L192.6,134.0 L193.1,133.0 L193.6,131.9 L194.1,130.7 L194.6,129.5 L195.1,128.3 L195.6,127.0 L196.1,125.7 L196.6,124.4 L197.0,123.2 L197.5,121.9 L198.0,120.6 L198.5,119.3 L199.0,118.1 L199.5,116.9 L200.0,115.7 L200.5,114.6 L201.0,113.6 L201.5,112.6 L202.0,111.6 L202.5,110.8 L203.0,110.0 L203.5,109.3 L204.0,108.7 L204.5,108.1 L205.0,107.7 L205.5,107.3 L206.0,107.1 L206.5,106.9 L207.0,106.9 L207.5,107.0 L208.0,107.1 L208.5,107.3 L209.0,107.7 L209.5,108.1 L210.0,108.7 L210.5,109.3 L211.0,110.0 L211.5,110.8 L212.0,111.6 L212.5,112.6 L213.0,113.5 L213.5,114.6 L214.0,115.7 L214.5,116.8 L215.0,118.0 L215.5,119.1 L216.0,120.3 L216.5,121.5 L217.0,122.8 L217.5,124.0 L218.0,125.1 L218.5,126.3 L219.0,127.4 L219.5,128.5 L220.0,129.6 L220.5,130.5 L221.0,131.5 L221.5,132.3 L222.0,133.1 L222.5,133.8 L223.0,134.4 L223.5,135.0 L224.0,135.4 L224.5,135.8 L225.0,136.0 L225.5,136.1 L226.0,136.2 L226.5,136.2 L227.0,136.1 L227.5,135.9 L228.0,135.6 L228.5,135.3 L229.0,134.9 L229.5,134.5 L230.0,134.0 L230.5,133.5 L231.0,132.8 L231.5,132.2 L232.0,131.5 L232.5,130.8 L233.0,130.1 L233.5,129.3 L234.0,128.5 L234.5,127.7 L234.9,126.9 L235.4,126.1 L235.9,125.3 L236.4,124.5 L236.9,123.8 L237.4,123.1 L237.9,122.4 L238.4,121.8 L238.9,121.1 L239.4,120.6 L239.9,120.1 L240.4,119.7 L240.9,119.3 L241.4,119.0 L241.9,118.7 L242.4,118.5 L242.9,118.4 L243.4,118.4 L243.9,118.4 L244.4,118.5 L244.9,118.5 L245.4,118.6 L245.9,118.7 L246.4,118.9 L246.9,119.1 L247.4,119.3 L247.9,119.5 L248.4,119.7 L248.9,120.0 L249.4,120.3 L249.9,120.6 L250.4,120.9 L250.9,121.2 L251.4,121.6 L251.9,121.9 L252.4,122.3 L252.9,122.7 L253.4,123.1 L253.9,123.5 L254.4,123.9 L255.0,124.2 L255.5,124.6 L256.0,125.0 L256.5,125.4 L257.0,125.8 L257.5,126.1 L258.0,126.5 L258.5,126.8 L259.0,127.1 L259.5,127.4 L260.0,127.7 L260.5,128.0 L261.0,128.2 L261.5,128.4 L262.0,128.6 L262.5,128.8 L263.0,129.0 L263.5,129.1 L264.0,129.2 L264.5,129.2 L265.0,129.3 L265.5,129.3 L266.0,129.3 L266.5,129.2 L267.0,129.0 L267.5,128.8 L268.0,128.6 L268.5,128.3 L269.0,127.9 L269.5,127.5 L270.0,127.1 L270.5,126.6 L271.0,126.1 L271.5,125.5 L272.0,125.0 L272.5,124.4 L273.0,123.8 L273.5,123.2 L274.0,122.6 L274.5,122.0 L275.0,121.4 L275.5,120.9 L276.0,120.3 L276.5,119.8 L277.0,119.3 L277.5,118.9 L278.0,118.5 L278.5,118.1 L279.0,117.8 L279.5,117.6 L280.0,117.4 L280.5,117.2 L281.0,117.1 L281.5,117.1 L282.0,117.1 L282.5,117.2 L283.0,117.3 L283.5,117.5 L284.0,117.7 L284.5,117.9 L285.0,118.2 L285.5,118.6 L286.0,118.9 L286.5,119.3 L287.0,119.8 L287.5,120.2 L288.0,120.7 L288.5,121.3 L289.0,121.8 L289.5,122.3 L290.0,122.9 L290.5,123.5 L291.0,124.0 L291.5,124.6 L292.0,125.2 L292.5,125.8 L293.0,126.3 L293.5,126.8 L294.0,127.4 L294.5,127.9 L295.0,128.3 L295.5,128.8 L296.0,129.2 L296.5,129.5 L297.0,129.9 L297.5,130.2 L298.0,130.4 L298.5,130.6 L299.0,130.8 L299.5,130.9 L300.0,131.0 L300.5,131.0 L301.0,131.0 L301.5,130.9 L302.0,130.7 L302.5,130.5 L303.0,130.3 L303.5,130.0 L304.0,129.6 L304.5,129.2 L305.0,128.8 L305.5,128.3 L306.0,127.8 L306.5,127.2 L307.0,126.7 L307.5,126.1 L307.9,125.5 L308.4,125.0 L308.9,124.4 L309.4,123.9 L309.9,123.3 L310.4,122.8 L310.9,122.3 L311.4,121.9 L311.9,121.5 L312.4,121.1 L312.9,120.8 L313.4,120.6 L313.9,120.4 L314.4,120.2 L314.9,120.1 L315.4,120.1 L315.9,120.1 L316.4,120.1 L316.9,120.2 L317.4,120.2 L317.9,120.2 L318.4,120.3 L318.9,120.4 L319.4,120.5 L319.9,120.5 L320.4,120.7 L320.9,120.8 L321.4,120.9 L321.9,121.0 L322.4,121.2 L322.9,121.3 L323.4,121.5 L323.9,121.6 L324.4,121.8 L324.9,122.0 L325.4,122.1 L325.9,122.3 L326.4,122.5 L326.9,122.7 L327.4,122.9 L327.9,123.1 L328.4,123.3 L328.9,123.5 L329.4,123.7 L329.8,123.9 L330.3,124.1 L330.8,124.3 L331.3,124.5 L331.8,124.7 L332.3,124.9 L332.8,125.1 L333.3,125.3 L333.8,125.4 L334.3,125.6 L334.8,125.8 L335.3,125.9 L335.8,126.1 L336.3,126.2 L336.8,126.4 L337.3,126.5 L337.8,126.6 L338.3,126.7 L338.8,126.9 L339.3,126.9 L339.8,127.0 L340.3,127.1 L340.8,127.2 L341.3,127.2 L341.8,127.2 L342.3,127.3 L342.8,127.3 L343.3,127.3 L343.8,127.3 L344.3,127.2 L344.8,127.2 L345.3,127.0 L345.8,126.9 L346.3,126.7 L346.8,126.5 L347.3,126.3 L347.8,126.0 L348.3,125.7 L348.8,125.4 L349.3,125.1 L349.8,124.8 L350.3,124.4 L350.8,124.0 L351.3,123.6 L351.8,123.2 L352.3,122.9 L352.9,122.5 L353.4,122.0 L353.9,121.7 L354.4,121.3 L354.9,120.9 L355.4,120.5 L355.9,120.1 L356.4,119.8 L356.9,119.5 L357.4,119.2 L357.9,118.9 L358.4,118.6 L358.9,118.4 L359.4,118.2 L359.9,118.0 L360.4,117.9 L360.9,117.7 L361.4,117.7 L361.9,117.6 L362.4,117.6 L362.9,117.6 L363.4,117.6 L363.9,117.7 L364.4,117.8 L364.9,117.8 L365.4,117.9 L365.9,118.1 L366.4,118.2 L366.9,118.4 L367.4,118.5 L367.9,118.7 L368.4,118.9 L368.9,119.2 L369.4,119.4 L369.9,119.6 L370.4,119.9 L370.9,120.2 L371.4,120.5 L371.9,120.7 L372.4,121.1 L372.9,121.4 L373.4,121.7 L373.9,122.0 L374.4,122.3 L374.9,122.7 L375.4,123.0 L375.9,123.4 L376.4,123.7 L376.9,124.0 L377.4,124.4 L377.9,124.7 L378.4,125.1 L378.9,125.4 L379.4,125.7 L379.9,126.0 L380.4,126.3 L380.9,126.7 L381.4,126.9 L381.9,127.2 L382.4,127.5 L382.9,127.8 L383.4,128.0 L383.9,128.2 L384.4,128.5 L384.9,128.7 L385.4,128.9 L385.9,129.0 L386.4,129.2 L386.9,129.3 L387.4,129.5 L387.9,129.6 L388.4,129.6 L388.9,129.7 L389.4,129.8 L389.9,129.8 L390.4,129.8 L390.9,129.8 L391.4,129.7 L391.9,129.7 L392.4,129.6 L392.9,129.5 L393.4,129.3 L393.9,129.1 L394.4,128.9 L394.9,128.7 L395.4,128.5 L395.9,128.2 L396.4,127.9 L396.9,127.6 L397.4,127.3 L397.9,127.0 L398.4,126.6 L398.9,126.3 L399.4,125.9 L399.9,125.5 L400.4,125.1 L400.9,124.7 L401.4,124.3 L401.9,123.9 L402.5,123.5 L403.0,123.1 L403.5,122.7 L404.0,122.3 L404.5,121.9 L405.0,121.5 L405.5,121.1 L406.0,120.8 L406.5,120.4 L407.0,120.1 L407.5,119.8 L408.0,119.5 L408.5,119.2 L409.0,118.9 L409.5,118.7 L410.0,118.5 L410.5,118.3 L411.0,118.1 L411.5,117.9 L412.0,117.8 L412.5,117.7 L413.0,117.7 L413.5,117.6 L414.0,117.6 L414.5,117.6 L415.0,117.6 L415.5,117.7 L416.0,117.8 L416.5,117.9 L417.0,118.0 L417.5,118.2 L418.0,118.3 L418.5,118.5 L419.0,118.7 L419.5,119.0 L420.0,119.2 L420.5,119.5 L421.0,119.8 L421.5,120.1 L422.0,120.4 L422.5,120.7 L423.0,121.0 L423.5,121.3 L424.0,121.7 L424.5,122.0 L425.0,122.4 L425.5,122.7 L426.0,123.0 L426.5,123.4 L427.0,123.7 L427.5,124.1 L428.0,124.4 L428.5,124.7 L429.0,125.0 L429.5,125.3 L430.0,125.6 L430.5,125.9 L431.0,126.2 L431.5,126.4 L432.0,126.7 L432.5,126.9 L433.0,127.1 L433.5,127.2 L434.0,127.4 L434.5,127.5 L435.0,127.6 L435.5,127.7 L436.0,127.8 L436.5,127.8 L437.0,127.8 L437.5,127.7 L438.0,127.6 L438.5,127.5 L439.0,127.3 L439.5,127.2 L440.0,127.0 L440.5,126.8 L441.0,126.6 L441.5,126.3 L442.0,126.1 L442.5,125.8 L443.0,125.6 L443.5,125.3 L444.0,125.0 L444.5,124.8 L445.0,124.5 L445.5,124.2" fill="none" stroke="#ff4545" stroke-width="1.2" stroke-linejoin="round"/>
<path d="M54.6,183.4 L54.8,180.7 L55.1,178.2 L55.3,175.8 L55.6,173.6 L55.8,171.8 L56.1,170.4 L56.3,169.4 L56.6,172.7 L56.8,176.1 L57.1,179.4 L57.3,182.6 L57.6,185.5 L57.8,188.0 L58.1,190.0 L58.3,191.6 L58.6,192.4 L58.9,192.0 L59.1,191.4 L59.4,190.6 L59.6,189.8 L59.9,189.0 L60.1,188.5 L60.4,188.2 L60.6,187.9 L60.9,187.4 L61.1,186.5 L61.3,185.3 L61.6,183.9 L61.8,182.4 L62.1,181.0 L62.3,179.7 L62.6,178.4 L62.8,177.1 L63.1,175.8 L63.3,174.5 L63.6,173.2 L63.8,171.9 L64.1,170.6 L64.4,173.7 L64.6,176.8 L64.9,179.9 L65.1,183.0 L65.4,186.0 L65.7,188.8 L65.9,191.3 L66.2,193.6 L66.4,195.6 L66.7,197.2 L66.9,198.4 L67.2,199.1 L67.4,198.5 L67.7,197.6 L67.9,196.5 L68.2,195.2 L68.4,194.2 L68.7,193.4 L68.9,193.0 L69.2,192.5 L69.4,191.8 L69.7,190.6 L69.9,188.8 L70.1,186.7 L70.4,184.6 L70.6,182.6 L70.9,180.7 L71.1,178.8 L71.4,176.9 L71.6,175.0 L71.9,173.1 L72.1,171.2 L72.4,169.3 L72.6,167.5 L72.8,170.7 L73.1,173.9 L73.3,177.1 L73.6,180.3 L73.8,183.3 L74.0,186.2 L74.3,188.9 L74.5,191.2 L74.8,193.3 L75.0,194.9 L75.3,196.2 L75.5,196.9 L75.8,196.2 L76.0,195.1 L76.2,193.7 L76.5,192.4 L76.8,191.3 L77.0,190.7 L77.2,190.2 L77.5,189.4 L77.8,188.1 L78.0,186.1 L78.2,183.7 L78.5,181.3 L78.8,179.0 L79.0,176.9 L79.2,174.7 L79.5,172.5 L79.8,170.3 L80.0,168.2 L80.2,166.0 L80.5,163.9 L80.8,167.3 L81.0,170.7 L81.2,174.1 L81.5,177.5 L81.8,180.7 L82.0,183.8 L82.2,186.6 L82.5,189.1 L82.8,191.2 L83.0,193.0 L83.2,194.3 L83.5,195.1 L83.8,194.5 L84.0,193.6 L84.3,192.4 L84.5,191.3 L84.8,190.4 L85.0,189.8 L85.3,189.4 L85.5,188.8 L85.8,187.7 L86.0,185.9 L86.3,183.9 L86.6,181.8 L86.8,179.9 L87.1,178.0 L87.3,176.2 L87.6,174.3 L87.8,172.5 L88.1,170.6 L88.3,168.8 L88.6,167.0 L88.9,170.2 L89.1,173.4 L89.4,176.6 L89.6,179.8 L89.9,182.9 L90.2,185.8 L90.4,188.4 L90.7,190.8 L90.9,192.9 L91.2,194.5 L91.4,195.8 L91.7,196.5 L92.0,195.8 L92.2,194.7 L92.5,193.4 L92.7,192.0 L93.0,191.0 L93.2,190.3 L93.5,189.8 L93.7,189.1 L94.0,187.8 L94.2,185.9 L94.5,183.5 L94.8,181.1 L95.0,178.9 L95.3,176.7 L95.5,174.6 L95.8,172.4 L96.0,170.3 L96.3,168.1 L96.5,166.0 L96.8,163.9 L97.1,167.5 L97.3,171.2 L97.6,174.8 L97.8,178.4 L98.1,181.9 L98.3,185.2 L98.6,188.2 L98.9,190.9 L99.1,193.2 L99.4,195.0 L99.6,196.5 L99.9,197.3 L100.1,196.6 L100.4,195.5 L100.6,194.1 L100.9,192.7 L101.1,191.8 L101.4,191.2 L101.6,190.6 L101.9,189.7 L102.1,188.1 L102.4,185.8 L102.6,183.3 L102.9,181.0 L103.1,178.8 L103.4,176.6 L103.6,174.4 L103.9,172.2 L104.1,170.0 L104.4,167.8 L104.6,165.7 L104.8,168.6 L105.1,171.5 L105.3,174.4 L105.6,177.4 L105.8,180.2 L106.1,183.0 L106.3,185.6 L106.6,188.0 L106.8,190.2 L107.1,192.2 L107.3,193.8 L107.6,195.2 L107.8,196.3 L108.1,196.9 L108.3,196.2 L108.6,195.1 L108.8,193.7 L109.1,192.5 L109.3,191.7 L109.6,191.1 L109.8,190.5 L110.1,189.4 L110.3,187.5 L110.6,185.1 L110.8,182.8 L111.1,180.6 L111.3,178.4 L111.6,176.3 L111.8,174.2 L112.1,172.1 L112.3,170.0 L112.6,167.9 L112.9,171.1 L113.1,174.4 L113.4,177.6 L113.6,180.9 L113.9,184.0 L114.1,187.0 L114.4,189.8 L114.6,192.4 L114.9,194.7 L115.1,196.7 L115.4,198.3 L115.6,199.5 L115.9,200.2 L116.2,199.4 L116.4,198.0 L116.7,196.4 L116.9,194.9 L117.2,194.0 L117.4,193.3 L117.7,192.6 L117.9,191.2 L118.2,188.9 L118.5,186.1 L118.7,183.4 L119.0,180.8 L119.2,178.2 L119.5,175.7 L119.7,173.2 L120.0,170.7 L120.2,168.2 L120.5,165.7 L120.8,168.9 L121.0,172.2 L121.3,175.4 L121.5,178.7 L121.8,181.9 L122.0,184.9 L122.3,187.8 L122.6,190.6 L122.8,193.0 L123.1,195.2 L123.3,197.1 L123.6,198.6 L123.8,199.8 L124.1,200.5 L124.3,199.7 L124.6,198.6 L124.8,197.1 L125.1,195.6 L125.3,194.4 L125.6,193.7 L125.8,193.2 L126.1,192.4 L126.3,191.0 L126.6,188.8 L126.8,186.2 L127.1,183.5 L127.3,181.1 L127.6,178.7 L127.8,176.3 L128.1,174.0 L128.3,171.6 L128.6,169.2 L128.8,166.9 L129.1,164.6 L129.4,168.6 L129.6,172.7 L129.9,176.8 L130.1,180.7 L130.4,184.5 L130.6,188.0 L130.9,191.2 L131.1,193.9 L131.4,196.1 L131.6,197.7 L131.9,198.7 L132.2,198.0 L132.4,196.9 L132.7,195.5 L132.9,194.0 L133.2,192.9 L133.4,192.1 L133.7,191.6 L133.9,190.9 L134.2,189.9 L134.4,188.1 L134.7,185.8 L134.9,183.2 L135.2,180.8 L135.4,178.5 L135.7,176.2 L135.9,174.0 L136.2,171.7 L136.4,169.5 L136.7,167.2 L136.9,165.0 L137.2,162.8 L137.5,166.3 L137.7,169.9 L138.0,173.5 L138.2,177.1 L138.5,180.6 L138.7,183.9 L139.0,187.0 L139.2,189.8 L139.5,192.3 L139.7,194.5 L140.0,196.2 L140.2,197.6 L140.5,198.4 L140.8,197.7 L141.0,196.7 L141.2,195.4 L141.5,194.0 L141.8,193.0 L142.0,192.4 L142.2,191.9 L142.5,191.2 L142.8,189.9 L143.0,188.0 L143.2,185.7 L143.5,183.3 L143.8,181.1 L144.0,179.0 L144.2,176.9 L144.5,174.8 L144.8,172.7 L145.0,170.6 L145.2,168.6 L145.5,166.5 L145.8,170.0 L146.0,173.6 L146.3,177.2 L146.5,180.7 L146.8,184.1 L147.1,187.3 L147.3,190.2 L147.6,192.8 L147.8,195.1 L148.1,196.9 L148.3,198.3 L148.6,199.1 L148.8,198.4 L149.1,197.4 L149.3,196.0 L149.6,194.6 L149.8,193.4 L150.1,192.5 L150.3,192.0 L150.6,191.4 L150.8,190.6 L151.1,189.2 L151.3,187.2 L151.6,184.7 L151.8,182.3 L152.1,180.0 L152.3,177.7 L152.6,175.6 L152.8,173.4 L153.1,171.2 L153.3,169.0 L153.6,166.8 L153.8,164.6 L154.1,162.5 L154.4,166.4 L154.6,170.4 L154.9,174.5 L155.1,178.4 L155.4,182.2 L155.6,185.8 L155.9,189.1 L156.2,192.0 L156.4,194.6 L156.7,196.6 L156.9,198.2 L157.2,199.1 L157.4,198.4 L157.7,197.4 L157.9,196.0 L158.2,194.7 L158.4,193.8 L158.7,193.2 L158.9,192.7 L159.2,191.8 L159.4,190.3 L159.7,188.1 L159.9,185.7 L160.2,183.5 L160.4,181.3 L160.7,179.2 L160.9,177.1 L161.2,175.0 L161.4,172.9 L161.7,170.9 L161.9,168.8 L162.2,171.2 L162.4,173.7 L162.7,176.1 L162.9,178.5 L163.2,180.8 L163.4,183.0 L163.7,185.0 L164.0,186.8 L164.2,188.4 L164.5,189.6 L164.7,190.6 L165.0,191.1 L165.2,190.7 L165.5,190.0 L165.8,189.1 L166.0,188.1 L166.2,187.3 L166.5,186.7 L166.8,186.3 L167.0,186.0 L167.2,185.4 L167.5,184.5 L167.8,183.1 L168.0,181.5 L168.2,179.8 L168.5,178.2 L168.8,176.8 L169.0,175.3 L169.2,173.8 L169.5,172.3 L169.8,170.9 L170.0,169.4 L170.2,167.9 L170.5,166.5 L170.8,169.7 L171.0,173.0 L171.2,176.3 L171.5,179.5 L171.8,182.7 L172.0,185.6 L172.2,188.3 L172.5,190.7 L172.8,192.8 L173.0,194.5 L173.2,195.8 L173.5,196.5 L173.8,196.0 L174.0,195.2 L174.2,194.2 L174.5,193.1 L174.8,192.2 L175.0,191.6 L175.2,191.1 L175.5,190.7 L175.8,190.1 L176.0,189.0 L176.2,187.5 L176.5,185.6 L176.8,183.8 L177.0,182.0 L177.2,180.3 L177.5,178.7 L177.8,177.0 L178.0,175.4 L178.2,173.7 L178.5,172.1 L178.8,170.4 L179.0,168.8 L179.2,172.4 L179.5,176.1 L179.7,179.8 L180.0,183.4 L180.2,186.8 L180.5,190.0 L180.7,192.8 L181.0,195.2 L181.2,197.2 L181.5,198.7 L181.7,199.6 L181.9,199.0 L182.2,198.1 L182.4,197.0 L182.7,195.8 L182.9,194.7 L183.2,193.8 L183.4,193.3 L183.7,192.9 L183.9,192.3 L184.2,191.3 L184.4,189.8 L184.7,187.8 L184.9,185.6 L185.2,183.6 L185.4,181.6 L185.7,179.7 L185.9,177.8 L186.2,175.9 L186.4,174.0 L186.7,172.1 L186.9,170.2 L187.2,168.3 L187.4,166.5 L187.7,169.7 L187.9,172.9 L188.2,176.1 L188.4,179.3 L188.7,182.4 L188.9,185.3 L189.2,187.9 L189.5,190.3 L189.7,192.4 L190.0,194.0 L190.2,195.3 L190.5,196.0 L190.7,195.5 L191.0,194.7 L191.2,193.7 L191.5,192.6 L191.7,191.6 L192.0,191.0 L192.2,190.5 L192.5,190.1 L192.7,189.5 L193.0,188.4 L193.2,186.8 L193.4,185.0 L193.7,183.1 L193.9,181.3 L194.2,179.6 L194.4,177.9 L194.7,176.3 L194.9,174.6 L195.2,172.9 L195.4,171.2 L195.7,169.5 L195.9,167.9 L196.2,170.7 L196.4,173.6 L196.7,176.5 L196.9,179.4 L197.2,182.2 L197.4,184.8 L197.7,187.3 L197.9,189.6 L198.2,191.6 L198.4,193.4 L198.7,194.8 L198.9,195.9 L199.2,196.5 L199.4,195.8 L199.7,194.8 L199.9,193.5 L200.2,192.2 L200.4,191.2 L200.7,190.6 L200.9,190.1 L201.2,189.4 L201.4,188.2 L201.6,186.3 L201.9,184.0 L202.1,181.7 L202.4,179.6 L202.6,177.5 L202.9,175.4 L203.1,173.4 L203.4,171.3 L203.6,169.3 L203.9,167.2 L204.1,165.2 L204.4,168.2 L204.6,171.3 L204.9,174.3 L205.1,177.4 L205.4,180.4 L205.6,183.2 L205.9,186.0 L206.2,188.5 L206.4,190.8 L206.7,192.8 L206.9,194.6 L207.2,196.0 L207.4,197.1 L207.7,197.8 L208.0,197.1 L208.2,196.0 L208.5,194.7 L208.7,193.3 L209.0,192.3 L209.2,191.6 L209.5,191.1 L209.7,190.4 L210.0,189.1 L210.2,187.2 L210.5,184.8 L210.8,182.4 L211.0,180.2 L211.3,178.0 L211.5,175.9 L211.8,173.7 L212.0,171.6 L212.3,169.4 L212.5,167.3 L212.8,165.2 L213.1,168.7 L213.3,172.3 L213.6,175.9 L213.8,179.4 L214.1,182.8 L214.4,186.0 L214.6,188.9 L214.9,191.5 L215.1,193.8 L215.4,195.6 L215.6,197.0 L215.9,197.8 L216.1,197.2 L216.4,196.1 L216.6,194.9 L216.9,193.6 L217.1,192.6 L217.4,192.0 L217.6,191.5 L217.9,190.8 L218.1,189.6 L218.4,187.8 L218.6,185.5 L218.8,183.3 L219.1,181.1 L219.3,179.1 L219.6,177.1 L219.8,175.0 L220.1,173.0 L220.3,171.0 L220.6,169.0 L220.8,167.0 L221.1,169.7 L221.3,172.4 L221.6,175.1 L221.8,177.8 L222.1,180.5 L222.3,183.0 L222.6,185.5 L222.8,187.7 L223.1,189.8 L223.3,191.6 L223.6,193.2 L223.8,194.4 L224.1,195.4 L224.3,196.0 L224.5,195.4 L224.8,194.3 L225.0,193.1 L225.3,191.8 L225.5,190.8 L225.8,190.2 L226.0,189.7 L226.3,189.0 L226.5,187.8 L226.8,186.0 L227.0,183.7 L227.2,181.5 L227.5,179.3 L227.7,177.3 L228.0,175.3 L228.2,173.2 L228.5,171.2 L228.7,169.2 L229.0,167.2 L229.2,165.2 L229.4,168.3 L229.7,171.4 L229.9,174.5 L230.2,177.6 L230.4,180.6 L230.7,183.6 L230.9,186.3 L231.1,188.9 L231.4,191.3 L231.6,193.4 L231.9,195.1 L232.1,196.6 L232.4,197.7 L232.6,198.4 L232.9,197.7 L233.1,196.5 L233.4,195.1 L233.6,193.6 L233.9,192.5 L234.1,191.8 L234.4,191.3 L234.6,190.5 L234.9,189.1 L235.1,187.0 L235.4,184.4 L235.7,181.9 L235.9,179.4 L236.2,177.1 L236.4,174.8 L236.7,172.5 L236.9,170.2 L237.2,167.9 L237.4,165.7 L237.7,163.4 L238.0,166.8 L238.2,170.3 L238.5,173.8 L238.7,177.2 L239.0,180.6 L239.2,183.8 L239.5,186.8 L239.7,189.5 L240.0,191.9 L240.2,194.0 L240.5,195.7 L240.7,197.0 L241.0,197.8 L241.2,197.2 L241.5,196.3 L241.8,195.1 L242.0,193.8 L242.2,192.7 L242.5,192.0 L242.8,191.5 L243.0,191.0 L243.2,190.3 L243.5,189.0 L243.8,187.2 L244.0,185.0 L244.2,182.8 L244.5,180.8 L244.8,178.8 L245.0,176.8 L245.2,174.9 L245.5,172.9 L245.8,171.0 L246.0,169.0 L246.2,167.1 L246.5,165.2 L246.7,169.5 L247.0,173.8 L247.2,178.1 L247.5,182.3 L247.7,186.3 L248.0,190.1 L248.2,193.4 L248.5,196.3 L248.7,198.6 L249.0,200.4 L249.2,201.4 L249.4,200.7 L249.7,199.6 L249.9,198.2 L250.2,196.8 L250.4,195.5 L250.7,194.7 L250.9,194.1 L251.2,193.6 L251.4,192.7 L251.7,191.3 L251.9,189.2 L252.1,186.7 L252.4,184.2 L252.6,181.8 L252.9,179.5 L253.1,177.3 L253.4,175.0 L253.6,172.8 L253.9,170.5 L254.1,168.3 L254.4,166.1 L254.6,163.9 L254.8,166.9 L255.1,170.0 L255.3,173.0 L255.6,176.1 L255.8,179.1 L256.1,181.9 L256.4,184.7 L256.6,187.2 L256.9,189.5 L257.1,191.5 L257.4,193.3 L257.6,194.7 L257.9,195.8 L258.1,196.5 L258.4,196.0 L258.6,195.1 L258.9,194.0 L259.1,192.8 L259.4,192.0 L259.6,191.5 L259.9,191.0 L260.1,190.5 L260.4,189.4 L260.6,187.8 L260.9,185.8 L261.2,183.9 L261.4,182.0 L261.7,180.2 L261.9,178.5 L262.2,176.7 L262.4,174.9 L262.7,173.2 L262.9,171.4 L263.2,169.7 L263.5,172.7 L263.7,175.8 L264.0,178.9 L264.2,181.9 L264.5,184.8 L264.8,187.6 L265.0,190.1 L265.3,192.4 L265.5,194.3 L265.8,195.9 L266.0,197.1 L266.3,197.8 L266.6,197.2 L266.8,196.3 L267.1,195.2 L267.3,193.9 L267.6,192.9 L267.8,192.1 L268.1,191.6 L268.3,191.2 L268.6,190.5 L268.8,189.2 L269.1,187.5 L269.4,185.4 L269.6,183.2 L269.9,181.2 L270.1,179.3 L270.4,177.4 L270.6,175.5 L270.9,173.6 L271.1,171.7 L271.4,169.8 L271.6,168.0 L271.9,166.1 L272.2,169.5 L272.4,172.9 L272.7,176.3 L272.9,179.7 L273.2,182.9 L273.4,186.0 L273.7,188.8 L274.0,191.3 L274.2,193.4 L274.5,195.2 L274.7,196.5 L275.0,197.3 L275.2,196.7 L275.5,195.7 L275.8,194.5 L276.0,193.1 L276.2,192.0 L276.5,191.2 L276.8,190.7 L277.0,190.2 L277.2,189.5 L277.5,188.1 L277.8,186.2 L278.0,184.0 L278.2,181.7 L278.5,179.6 L278.8,177.5 L279.0,175.5 L279.2,173.5 L279.5,171.4 L279.8,169.4 L280.0,167.4 L280.2,165.4 L280.5,163.4 L280.7,166.8 L281.0,170.3 L281.2,173.8 L281.5,177.2 L281.7,180.6 L282.0,183.8 L282.2,186.8 L282.5,189.5 L282.7,191.9 L283.0,194.0 L283.2,195.7 L283.5,197.0 L283.7,197.8 L284.0,197.2 L284.2,196.3 L284.5,195.1 L284.7,193.8 L285.0,192.8 L285.2,192.1 L285.5,191.7 L285.7,191.2 L286.0,190.2 L286.2,188.7 L286.5,186.7 L286.7,184.5 L287.0,182.4 L287.2,180.4 L287.5,178.5 L287.7,176.6 L288.0,174.7 L288.2,172.7 L288.5,170.8 L288.7,168.9 L289.0,167.0 L289.2,170.6 L289.5,174.3 L289.7,177.9 L290.0,181.6 L290.2,185.0 L290.4,188.3 L290.7,191.3 L290.9,194.0 L291.2,196.3 L291.4,198.2 L291.7,199.7 L291.9,200.5 L292.2,199.9 L292.4,198.9 L292.7,197.7 L292.9,196.4 L293.2,195.2 L293.4,194.4 L293.7,193.8 L293.9,193.3 L294.2,192.7 L294.4,191.6 L294.7,190.0 L294.9,187.9 L295.2,185.6 L295.4,183.4 L295.7,181.3 L295.9,179.3 L296.2,177.2 L296.4,175.2 L296.7,173.2 L296.9,171.2 L297.2,169.2 L297.4,167.2 L297.7,165.2 L298.0,169.2 L298.2,173.2 L298.5,177.3 L298.7,181.2 L299.0,185.0 L299.2,188.5 L299.5,191.6 L299.7,194.3 L300.0,196.5 L300.2,198.1 L300.5,199.1 L300.8,198.5 L301.0,197.6 L301.2,196.4 L301.5,195.1 L301.8,193.9 L302.0,193.0 L302.2,192.3 L302.5,191.9 L302.8,191.3 L303.0,190.5 L303.2,189.1 L303.5,187.3 L303.8,185.1 L304.0,182.8 L304.2,180.7 L304.5,178.6 L304.8,176.6 L305.0,174.7 L305.2,172.7 L305.5,170.7 L305.8,168.7 L306.0,166.7 L306.2,164.7 L306.5,162.8 L306.8,166.4 L307.0,170.1 L307.2,173.8 L307.5,177.4 L307.8,180.9 L308.0,184.3 L308.2,187.3 L308.5,190.0 L308.8,192.3 L309.0,194.2 L309.2,195.7 L309.5,196.5 L309.8,195.9 L310.0,195.0 L310.2,193.8 L310.5,192.6 L310.8,191.5 L311.0,190.7 L311.2,190.2 L311.5,189.8 L311.8,189.0 L312.0,187.8 L312.2,186.0 L312.5,183.9 L312.8,181.7 L313.0,179.7 L313.2,177.7 L313.5,175.8 L313.8,173.9 L314.0,171.9 L314.2,170.0 L314.5,168.1 L314.8,166.2 L315.0,164.3 L315.3,167.1 L315.5,169.9 L315.8,172.7 L316.0,175.5 L316.3,178.2 L316.5,180.8 L316.8,183.3 L317.1,185.7 L317.3,187.8 L317.6,189.7 L317.8,191.3 L318.1,192.6 L318.3,193.6 L318.6,194.2 L318.9,193.7 L319.1,192.8 L319.4,191.7 L319.6,190.6 L319.9,189.8 L320.1,189.3 L320.4,188.8 L320.6,188.3 L320.9,187.2 L321.1,185.6 L321.4,183.7 L321.7,181.8 L321.9,180.0 L322.2,178.2 L322.4,176.5 L322.7,174.8 L322.9,173.0 L323.2,171.3 L323.4,169.6 L323.7,167.9 L323.9,170.6 L324.2,173.3 L324.4,176.0 L324.7,178.7 L324.9,181.4 L325.2,183.9 L325.4,186.4 L325.7,188.6 L325.9,190.7 L326.2,192.5 L326.4,194.1 L326.7,195.3 L326.9,196.3 L327.2,196.9 L327.4,196.3 L327.7,195.5 L327.9,194.3 L328.2,193.1 L328.4,192.1 L328.7,191.4 L328.9,190.9 L329.2,190.5 L329.4,189.8 L329.7,188.6 L329.9,186.9 L330.1,184.8 L330.4,182.8 L330.6,180.8 L330.9,178.9 L331.1,177.1 L331.4,175.3 L331.6,173.4 L331.9,171.6 L332.1,169.7 L332.4,167.9 L332.6,166.1 L332.9,169.1 L333.1,172.1 L333.4,175.1 L333.6,178.1 L333.9,181.0 L334.1,183.8 L334.4,186.4 L334.6,188.8 L334.9,190.9 L335.1,192.7 L335.4,194.2 L335.6,195.3 L335.9,196.0 L336.1,195.5 L336.4,194.6 L336.6,193.6 L336.9,192.5 L337.1,191.5 L337.4,190.8 L337.6,190.4 L337.9,190.0 L338.1,189.3 L338.4,188.2 L338.6,186.6 L338.9,184.6 L339.1,182.7 L339.4,180.8 L339.6,179.1 L339.9,177.4 L340.1,175.6 L340.4,173.9 L340.6,172.1 L340.9,170.4 L341.1,168.7 L341.4,167.0 L341.6,170.0 L341.9,173.1 L342.1,176.1 L342.4,179.2 L342.6,182.1 L342.9,184.9 L343.1,187.6 L343.4,190.0 L343.6,192.1 L343.9,194.0 L344.1,195.5 L344.4,196.6 L344.6,197.3 L344.9,196.7 L345.1,195.8 L345.4,194.6 L345.6,193.4 L345.9,192.4 L346.1,191.7 L346.4,191.3 L346.6,190.8 L346.9,189.9 L347.1,188.4 L347.4,186.4 L347.6,184.2 L347.9,182.2 L348.1,180.2 L348.4,178.3 L348.6,176.4 L348.9,174.5 L349.1,172.6 L349.4,170.7 L349.6,168.9 L349.9,167.0 L350.2,170.0 L350.4,173.0 L350.7,176.0 L350.9,179.0 L351.2,181.9 L351.4,184.7 L351.7,187.3 L351.9,189.7 L352.2,191.8 L352.4,193.6 L352.7,195.1 L352.9,196.2 L353.2,196.9 L353.5,196.3 L353.7,195.5 L354.0,194.4 L354.2,193.2 L354.5,192.1 L354.7,191.3 L355.0,190.8 L355.2,190.3 L355.5,189.8 L355.7,188.8 L356.0,187.3 L356.2,185.4 L356.5,183.3 L356.7,181.2 L357.0,179.3 L357.2,177.5 L357.5,175.6 L357.7,173.8 L358.0,171.9 L358.2,170.1 L358.5,168.2 L358.7,166.4 L359.0,164.6 L359.2,168.1 L359.5,171.7 L359.7,175.3 L360.0,178.8 L360.2,182.2 L360.4,185.4 L360.7,188.4 L360.9,191.0 L361.2,193.2 L361.4,195.1 L361.7,196.5 L361.9,197.3 L362.1,196.7 L362.4,195.9 L362.6,194.7 L362.9,193.5 L363.1,192.5 L363.4,191.8 L363.6,191.3 L363.9,190.9 L364.1,190.2 L364.4,189.0 L364.6,187.3 L364.9,185.2 L365.1,183.2 L365.4,181.2 L365.6,179.3 L365.9,177.5 L366.1,175.7 L366.4,173.8 L366.6,172.0 L366.9,170.1 L367.1,168.3 L367.4,166.5 L367.6,169.3 L367.9,172.1 L368.1,174.9 L368.4,177.7 L368.6,180.4 L368.9,183.1 L369.1,185.6 L369.3,187.9 L369.6,190.1 L369.8,191.9 L370.1,193.6 L370.3,194.9 L370.6,195.9 L370.8,196.5 L371.0,196.0 L371.3,195.2 L371.5,194.2 L371.8,193.1 L372.0,192.2 L372.3,191.5 L372.5,191.0 L372.8,190.6 L373.0,190.1 L373.3,189.2 L373.5,187.9 L373.8,186.2 L374.0,184.3 L374.3,182.5 L374.5,180.7 L374.8,179.1 L375.0,177.4 L375.3,175.7 L375.5,174.1 L375.8,172.4 L376.0,170.8 L376.3,169.1 L376.5,167.5 L376.8,171.1 L377.0,174.7 L377.3,178.3 L377.5,181.8 L377.8,185.2 L378.0,188.3 L378.3,191.1 L378.5,193.5 L378.8,195.5 L379.0,196.9 L379.3,197.8 L379.5,197.2 L379.8,196.3 L380.0,195.2 L380.3,193.9 L380.5,192.8 L380.8,192.0 L381.0,191.4 L381.3,191.0 L381.5,190.4 L381.8,189.4 L382.0,187.8 L382.3,185.8 L382.5,183.7 L382.8,181.6 L383.0,179.6 L383.3,177.6 L383.5,175.7 L383.8,173.8 L384.0,171.9 L384.3,170.0 L384.5,168.1 L384.8,166.2 L385.0,164.3 L385.2,168.1 L385.5,172.0 L385.7,175.9 L386.0,179.8 L386.2,183.5 L386.4,187.0 L386.7,190.2 L386.9,193.0 L387.2,195.5 L387.4,197.5 L387.7,199.0 L387.9,199.9 L388.2,199.2 L388.4,198.2 L388.7,196.8 L388.9,195.4 L389.2,194.2 L389.4,193.4 L389.7,192.8 L389.9,192.3 L390.2,191.4 L390.4,190.0 L390.7,188.0 L391.0,185.6 L391.2,183.1 L391.5,180.8 L391.7,178.6 L392.0,176.4 L392.2,174.2 L392.5,172.1 L392.7,169.9 L393.0,167.7 L393.2,165.5 L393.5,163.4 L393.7,167.6 L394.0,171.8 L394.2,176.0 L394.5,180.2 L394.7,184.2 L394.9,188.0 L395.2,191.5 L395.4,194.6 L395.7,197.3 L395.9,199.5 L396.2,201.1 L396.4,202.1 L396.6,201.5 L396.9,200.6 L397.1,199.5 L397.4,198.2 L397.6,197.0 L397.9,196.1 L398.1,195.5 L398.4,195.0 L398.6,194.5 L398.9,193.7 L399.1,192.3 L399.4,190.5 L399.6,188.3 L399.8,186.1 L400.1,184.0 L400.3,182.0 L400.6,180.1 L400.8,178.1 L401.1,176.2 L401.3,174.2 L401.6,172.3 L401.8,170.3 L402.1,168.4 L402.3,166.5 L402.5,170.1 L402.8,173.8 L403.0,177.5 L403.3,181.1 L403.5,184.5 L403.8,187.7 L404.0,190.5 L404.3,192.9 L404.5,194.9 L404.8,196.4 L405.0,197.3 L405.3,196.8 L405.5,195.9 L405.8,194.9 L406.0,193.7 L406.3,192.6 L406.5,191.9 L406.8,191.4 L407.0,191.0 L407.3,190.4 L407.5,189.5 L407.8,188.0 L408.0,186.2 L408.3,184.1 L408.5,182.2 L408.8,180.3 L409.0,178.5 L409.3,176.7 L409.5,175.0 L409.8,173.2 L410.0,171.4 L410.3,169.6 L410.5,167.8 L410.8,166.1 L411.0,169.7 L411.3,173.4 L411.5,177.0 L411.8,180.7 L412.0,184.1 L412.2,187.4 L412.5,190.4 L412.7,193.1 L413.0,195.4 L413.2,197.3 L413.5,198.8 L413.7,199.6 L413.9,198.9 L414.2,197.9 L414.4,196.6 L414.7,195.2 L414.9,193.9 L415.2,193.1 L415.4,192.6 L415.7,192.0 L415.9,191.2 L416.2,189.8 L416.4,187.8 L416.7,185.4 L416.9,183.0 L417.2,180.7 L417.4,178.5 L417.7,176.3 L417.9,174.2 L418.2,172.0 L418.4,169.8 L418.7,167.7 L418.9,165.5 L419.2,163.4 L419.5,167.4 L419.7,171.4 L420.0,175.4 L420.2,179.4 L420.5,183.2 L420.8,186.8 L421.0,190.1 L421.3,193.1 L421.5,195.6 L421.8,197.7 L422.0,199.3 L422.3,200.2 L422.5,199.6 L422.8,198.7 L423.0,197.6 L423.3,196.4 L423.5,195.3 L423.8,194.6 L424.0,194.1 L424.3,193.6 L424.5,192.9 L424.8,191.7 L425.0,190.0 L425.2,187.9 L425.5,185.8 L425.7,183.8 L426.0,181.9 L426.2,180.0 L426.5,178.1 L426.7,176.3 L427.0,174.4 L427.2,172.5 L427.5,170.6 L427.7,168.8 L428.0,171.6 L428.2,174.4 L428.5,177.3 L428.7,180.1 L429.0,182.8 L429.2,185.4 L429.5,187.9 L429.7,190.1 L430.0,192.1 L430.2,193.8 L430.5,195.2 L430.7,196.3 L431.0,196.9 L431.3,196.3 L431.5,195.4 L431.8,194.2 L432.0,192.9 L432.3,191.9 L432.5,191.2 L432.8,190.8 L433.0,190.3 L433.3,189.3 L433.5,187.8 L433.8,185.8 L434.0,183.6 L434.3,181.5 L434.5,179.5 L434.8,177.6 L435.0,175.7 L435.3,173.8 L435.5,171.8 L435.8,169.9 L436.0,168.0 L436.3,166.1 L436.5,169.3 L436.8,172.6 L437.0,175.8 L437.3,179.1 L437.5,182.2 L437.8,185.2 L438.0,188.0 L438.3,190.6 L438.5,192.9 L438.8,194.9 L439.0,196.5 L439.3,197.7 L439.5,198.4 L439.8,197.8 L440.0,197.0 L440.2,195.9 L440.5,194.7 L440.8,193.7 L441.0,193.0 L441.2,192.6 L441.5,192.1 L441.8,191.4 L442.0,190.3 L442.2,188.6 L442.5,186.6 L442.8,184.6 L443.0,182.7 L443.2,180.8 L443.5,179.0 L443.8,177.2 L444.0,175.4 L444.2,173.6 L444.5,171.8 L444.8,170.1 L445.0,168.3 L445.3,171.2 L445.6,176.0" fill="none" stroke="#2424ff" stroke-width="1.05" stroke-linejoin="round"/>
<path d="M54.1,247.7 L54.4,245.3 L54.6,242.9 L54.9,240.8 L55.1,238.8 L55.4,237.2 L55.6,235.9 L55.9,235.0 L56.1,236.4 L56.4,238.4 L56.6,240.8 L56.9,243.5 L57.1,246.4 L57.3,249.1 L57.6,251.6 L57.8,253.5 L58.1,254.8 L58.3,255.4 L58.5,255.2 L58.8,254.8 L59.0,254.3 L59.3,253.6 L59.5,252.7 L59.8,251.7 L60.0,250.5 L60.3,249.3 L60.5,248.0 L60.8,246.6 L61.0,245.1 L61.2,243.6 L61.5,242.2 L61.7,240.7 L62.0,239.3 L62.2,237.9 L62.5,236.7 L62.7,235.5 L63.0,234.5 L63.2,233.5 L63.5,232.7 L63.7,232.1 L64.0,233.7 L64.2,235.9 L64.5,238.6 L64.7,241.7 L65.0,245.0 L65.2,248.3 L65.5,251.6 L65.8,254.6 L66.0,257.2 L66.3,259.2 L66.5,260.6 L66.8,261.2 L67.1,260.9 L67.3,260.3 L67.6,259.4 L67.8,258.2 L68.1,256.8 L68.3,255.1 L68.6,253.3 L68.8,251.3 L69.1,249.2 L69.3,247.0 L69.6,244.7 L69.9,242.5 L70.1,240.3 L70.4,238.2 L70.6,236.2 L70.9,234.3 L71.1,232.7 L71.4,231.2 L71.6,230.0 L71.9,229.0 L72.2,230.7 L72.4,233.1 L72.7,236.0 L72.9,239.3 L73.2,242.9 L73.5,246.6 L73.7,250.1 L74.0,253.4 L74.2,256.2 L74.5,258.4 L74.7,259.8 L75.0,260.5 L75.2,260.2 L75.5,259.5 L75.7,258.6 L76.0,257.4 L76.2,255.9 L76.5,254.1 L76.7,252.2 L77.0,250.1 L77.2,247.8 L77.5,245.5 L77.7,243.2 L77.9,240.8 L78.2,238.5 L78.4,236.3 L78.7,234.2 L78.9,232.2 L79.2,230.5 L79.4,228.9 L79.7,227.6 L79.9,226.6 L80.2,228.2 L80.4,230.4 L80.7,233.1 L80.9,236.2 L81.2,239.5 L81.4,242.9 L81.7,246.4 L81.9,249.7 L82.2,252.6 L82.4,255.1 L82.7,257.1 L82.9,258.4 L83.2,259.0 L83.5,258.7 L83.7,258.1 L84.0,257.2 L84.2,256.0 L84.5,254.5 L84.7,252.8 L85.0,251.0 L85.2,249.0 L85.5,246.9 L85.7,244.8 L86.0,242.7 L86.2,240.7 L86.5,238.7 L86.7,236.9 L87.0,235.3 L87.2,233.8 L87.5,232.6 L87.7,231.7 L87.9,232.8 L88.2,234.3 L88.4,236.2 L88.7,238.2 L88.9,240.5 L89.2,243.0 L89.4,245.5 L89.7,247.9 L89.9,250.3 L90.2,252.5 L90.4,254.5 L90.7,256.1 L90.9,257.4 L91.2,258.2 L91.4,258.6 L91.6,258.3 L91.9,257.7 L92.1,256.8 L92.4,255.6 L92.6,254.1 L92.9,252.4 L93.1,250.6 L93.4,248.5 L93.6,246.4 L93.8,244.1 L94.1,241.9 L94.3,239.6 L94.6,237.4 L94.8,235.2 L95.1,233.2 L95.3,231.3 L95.6,229.6 L95.8,228.2 L96.1,226.9 L96.3,225.9 L96.5,227.6 L96.8,230.0 L97.0,232.8 L97.3,236.1 L97.5,239.7 L97.8,243.4 L98.0,247.0 L98.3,250.5 L98.5,253.7 L98.8,256.4 L99.0,258.5 L99.3,259.9 L99.5,260.5 L99.8,260.2 L100.0,259.6 L100.2,258.7 L100.5,257.5 L100.8,256.1 L101.0,254.4 L101.2,252.5 L101.5,250.5 L101.8,248.4 L102.0,246.2 L102.2,243.9 L102.5,241.7 L102.8,239.5 L103.0,237.3 L103.2,235.3 L103.5,233.5 L103.8,231.8 L104.0,230.3 L104.2,229.1 L104.5,228.1 L104.7,229.7 L105.0,231.8 L105.2,234.4 L105.5,237.3 L105.7,240.5 L106.0,243.9 L106.2,247.2 L106.5,250.4 L106.7,253.2 L107.0,255.7 L107.2,257.6 L107.5,258.8 L107.7,259.4 L108.0,259.0 L108.2,258.3 L108.5,257.2 L108.7,255.8 L109.0,254.1 L109.2,252.1 L109.5,249.9 L109.7,247.6 L110.0,245.2 L110.3,242.7 L110.5,240.2 L110.8,237.8 L111.0,235.5 L111.3,233.3 L111.5,231.4 L111.8,229.7 L112.0,228.3 L112.3,227.2 L112.6,228.8 L112.8,230.9 L113.1,233.5 L113.3,236.4 L113.6,239.6 L113.8,243.0 L114.1,246.5 L114.4,249.8 L114.6,252.9 L114.9,255.7 L115.1,258.1 L115.4,259.9 L115.6,261.1 L115.9,261.7 L116.2,261.3 L116.4,260.6 L116.7,259.5 L116.9,258.0 L117.2,256.2 L117.4,254.2 L117.7,252.0 L117.9,249.5 L118.2,247.0 L118.5,244.5 L118.7,241.9 L119.0,239.4 L119.2,237.0 L119.5,234.8 L119.7,232.8 L120.0,231.1 L120.2,229.7 L120.5,228.5 L120.8,230.1 L121.0,232.2 L121.3,234.7 L121.5,237.6 L121.8,240.8 L122.0,244.1 L122.3,247.5 L122.6,250.8 L122.8,253.9 L123.1,256.7 L123.3,259.0 L123.6,260.8 L123.8,262.0 L124.1,262.6 L124.4,262.2 L124.6,261.3 L124.9,260.0 L125.1,258.2 L125.4,256.2 L125.6,253.8 L125.9,251.2 L126.1,248.4 L126.4,245.5 L126.6,242.6 L126.9,239.7 L127.1,237.0 L127.4,234.5 L127.6,232.2 L127.9,230.2 L128.1,228.5 L128.4,227.2 L128.7,228.8 L128.9,231.0 L129.2,233.6 L129.4,236.6 L129.7,239.8 L129.9,243.3 L130.2,246.8 L130.4,250.2 L130.7,253.4 L130.9,256.2 L131.2,258.6 L131.4,260.5 L131.7,261.7 L131.9,262.3 L132.2,261.9 L132.4,261.0 L132.7,259.8 L132.9,258.2 L133.2,256.2 L133.4,254.0 L133.7,251.5 L133.9,248.8 L134.2,246.0 L134.5,243.1 L134.7,240.3 L135.0,237.5 L135.2,234.9 L135.5,232.4 L135.7,230.2 L136.0,228.3 L136.2,226.7 L136.5,225.4 L136.8,227.1 L137.0,229.3 L137.3,232.0 L137.5,235.1 L137.8,238.5 L138.0,242.0 L138.3,245.7 L138.6,249.2 L138.8,252.5 L139.1,255.4 L139.3,257.9 L139.6,259.8 L139.8,261.1 L140.1,261.7 L140.3,261.4 L140.6,260.8 L140.8,259.9 L141.1,258.7 L141.3,257.2 L141.6,255.5 L141.8,253.7 L142.1,251.6 L142.3,249.5 L142.6,247.2 L142.8,245.0 L143.0,242.7 L143.3,240.5 L143.5,238.3 L143.8,236.3 L144.0,234.4 L144.3,232.7 L144.5,231.3 L144.8,230.0 L145.0,229.0 L145.3,230.5 L145.5,232.4 L145.8,234.8 L146.0,237.5 L146.3,240.5 L146.5,243.6 L146.8,246.7 L147.1,249.8 L147.3,252.7 L147.6,255.3 L147.8,257.5 L148.1,259.1 L148.3,260.3 L148.6,260.8 L148.9,260.4 L149.1,259.6 L149.4,258.4 L149.6,256.8 L149.9,255.0 L150.1,252.8 L150.4,250.4 L150.6,247.8 L150.9,245.2 L151.2,242.4 L151.4,239.7 L151.7,237.0 L151.9,234.5 L152.2,232.1 L152.4,230.0 L152.7,228.2 L152.9,226.6 L153.2,225.4 L153.5,227.1 L153.7,229.2 L154.0,231.9 L154.2,235.0 L154.5,238.3 L154.7,241.8 L155.0,245.4 L155.3,248.9 L155.5,252.1 L155.8,255.0 L156.0,257.4 L156.3,259.3 L156.5,260.6 L156.8,261.2 L157.1,260.9 L157.3,260.2 L157.6,259.2 L157.8,257.9 L158.1,256.3 L158.3,254.5 L158.6,252.5 L158.8,250.3 L159.1,248.0 L159.4,245.7 L159.6,243.4 L159.9,241.2 L160.1,239.1 L160.4,237.1 L160.6,235.3 L160.9,233.7 L161.1,232.4 L161.4,231.4 L161.7,232.5 L161.9,234.0 L162.2,235.8 L162.4,237.8 L162.7,240.0 L162.9,242.4 L163.2,244.8 L163.5,247.1 L163.7,249.3 L164.0,251.2 L164.2,252.9 L164.5,254.2 L164.7,255.0 L165.0,255.4 L165.2,255.2 L165.5,254.7 L165.7,254.0 L166.0,253.1 L166.2,252.0 L166.5,250.7 L166.7,249.2 L167.0,247.7 L167.2,246.0 L167.4,244.3 L167.7,242.6 L167.9,240.8 L168.2,239.1 L168.4,237.5 L168.7,235.9 L168.9,234.5 L169.2,233.2 L169.4,232.0 L169.7,231.1 L169.9,230.3 L170.2,231.8 L170.4,233.9 L170.7,236.4 L170.9,239.3 L171.2,242.4 L171.4,245.7 L171.7,248.9 L171.9,252.0 L172.2,254.8 L172.4,257.2 L172.7,259.0 L172.9,260.2 L173.2,260.8 L173.5,260.5 L173.7,259.9 L174.0,259.1 L174.2,257.9 L174.5,256.6 L174.7,255.0 L175.0,253.2 L175.2,251.3 L175.5,249.3 L175.8,247.1 L176.0,245.0 L176.3,242.8 L176.5,240.7 L176.8,238.7 L177.0,236.8 L177.3,235.0 L177.5,233.4 L177.8,232.0 L178.0,230.9 L178.3,229.9 L178.5,231.4 L178.8,233.4 L179.0,235.8 L179.3,238.6 L179.5,241.7 L179.8,244.9 L180.0,248.1 L180.2,251.3 L180.5,254.3 L180.7,256.9 L181.0,259.2 L181.2,260.9 L181.5,262.1 L181.7,262.6 L182.0,262.3 L182.2,261.6 L182.5,260.7 L182.7,259.4 L183.0,257.9 L183.2,256.2 L183.5,254.2 L183.7,252.1 L184.0,249.9 L184.2,247.5 L184.5,245.2 L184.8,242.8 L185.0,240.5 L185.3,238.2 L185.5,236.1 L185.8,234.2 L186.0,232.4 L186.3,230.9 L186.5,229.5 L186.8,228.5 L187.1,230.0 L187.3,232.0 L187.6,234.4 L187.8,237.2 L188.1,240.3 L188.3,243.4 L188.6,246.6 L188.8,249.6 L189.1,252.3 L189.3,254.6 L189.6,256.4 L189.8,257.5 L190.1,258.1 L190.4,257.8 L190.6,257.4 L190.9,256.6 L191.1,255.7 L191.4,254.5 L191.6,253.2 L191.9,251.7 L192.1,250.1 L192.4,248.4 L192.6,246.6 L192.9,244.7 L193.1,242.8 L193.4,241.0 L193.6,239.2 L193.9,237.4 L194.1,235.8 L194.4,234.3 L194.6,232.9 L194.9,231.7 L195.1,230.7 L195.4,229.9 L195.6,231.4 L195.9,233.4 L196.1,235.8 L196.4,238.6 L196.6,241.6 L196.9,244.8 L197.1,247.9 L197.4,250.9 L197.6,253.6 L197.9,255.9 L198.1,257.7 L198.4,258.8 L198.6,259.4 L198.8,259.1 L199.1,258.5 L199.3,257.6 L199.6,256.5 L199.8,255.1 L200.1,253.5 L200.3,251.7 L200.6,249.8 L200.8,247.7 L201.1,245.6 L201.3,243.4 L201.5,241.2 L201.8,239.1 L202.0,237.0 L202.3,235.1 L202.5,233.3 L202.8,231.7 L203.0,230.3 L203.3,229.1 L203.5,228.1 L203.7,229.5 L204.0,231.3 L204.2,233.5 L204.5,236.0 L204.7,238.7 L205.0,241.7 L205.2,244.7 L205.5,247.7 L205.7,250.5 L206.0,253.2 L206.2,255.5 L206.5,257.5 L206.7,259.0 L207.0,260.0 L207.2,260.5 L207.5,260.2 L207.7,259.6 L208.0,258.7 L208.2,257.5 L208.5,256.1 L208.7,254.5 L209.0,252.6 L209.2,250.7 L209.5,248.5 L209.8,246.4 L210.0,244.1 L210.3,241.9 L210.5,239.7 L210.8,237.6 L211.0,235.6 L211.3,233.8 L211.5,232.2 L211.8,230.7 L212.0,229.5 L212.3,228.5 L212.5,230.1 L212.8,232.3 L213.0,234.9 L213.3,237.9 L213.5,241.2 L213.8,244.6 L214.0,248.0 L214.3,251.3 L214.5,254.2 L214.8,256.7 L215.0,258.6 L215.3,259.9 L215.5,260.5 L215.8,260.2 L216.0,259.6 L216.2,258.6 L216.5,257.5 L216.8,256.0 L217.0,254.3 L217.2,252.4 L217.5,250.4 L217.8,248.2 L218.0,246.0 L218.2,243.7 L218.5,241.4 L218.8,239.2 L219.0,237.0 L219.2,235.0 L219.5,233.1 L219.8,231.4 L220.0,230.0 L220.2,228.7 L220.5,227.7 L220.8,229.1 L221.0,231.1 L221.3,233.4 L221.5,236.1 L221.8,239.0 L222.0,242.0 L222.3,245.2 L222.6,248.2 L222.8,251.0 L223.1,253.6 L223.3,255.7 L223.6,257.4 L223.8,258.5 L224.1,259.0 L224.3,258.7 L224.6,258.1 L224.8,257.2 L225.1,256.0 L225.3,254.6 L225.6,253.0 L225.8,251.2 L226.1,249.2 L226.3,247.1 L226.6,244.9 L226.8,242.7 L227.0,240.5 L227.3,238.3 L227.5,236.3 L227.8,234.3 L228.0,232.5 L228.3,230.8 L228.5,229.4 L228.8,228.2 L229.0,227.2 L229.3,228.8 L229.5,230.9 L229.8,233.5 L230.0,236.4 L230.3,239.6 L230.5,243.0 L230.8,246.5 L231.1,249.8 L231.3,252.9 L231.6,255.7 L231.8,258.1 L232.1,259.9 L232.3,261.1 L232.6,261.7 L232.9,261.3 L233.1,260.5 L233.4,259.3 L233.6,257.7 L233.9,255.8 L234.1,253.6 L234.4,251.2 L234.6,248.6 L234.9,245.9 L235.2,243.1 L235.4,240.3 L235.7,237.7 L235.9,235.1 L236.2,232.7 L236.4,230.6 L236.7,228.7 L236.9,227.1 L237.2,225.9 L237.5,227.5 L237.7,229.6 L238.0,232.2 L238.2,235.1 L238.5,238.4 L238.7,241.8 L239.0,245.2 L239.3,248.6 L239.5,251.7 L239.8,254.5 L240.0,256.9 L240.3,258.7 L240.5,259.9 L240.8,260.5 L241.1,260.2 L241.3,259.5 L241.6,258.6 L241.8,257.4 L242.1,255.9 L242.3,254.1 L242.6,252.2 L242.8,250.1 L243.1,247.8 L243.4,245.5 L243.6,243.2 L243.9,240.8 L244.1,238.5 L244.4,236.3 L244.6,234.2 L244.9,232.2 L245.1,230.5 L245.4,228.9 L245.6,227.6 L245.9,226.6 L246.2,228.5 L246.4,231.0 L246.7,234.0 L246.9,237.5 L247.2,241.3 L247.4,245.2 L247.7,249.1 L247.9,252.9 L248.2,256.2 L248.4,259.1 L248.7,261.3 L248.9,262.8 L249.2,263.5 L249.5,263.2 L249.7,262.5 L250.0,261.6 L250.2,260.4 L250.5,258.9 L250.7,257.1 L251.0,255.2 L251.2,253.0 L251.5,250.8 L251.7,248.4 L252.0,246.0 L252.2,243.5 L252.5,241.1 L252.7,238.7 L253.0,236.4 L253.2,234.3 L253.5,232.3 L253.7,230.6 L254.0,229.0 L254.2,227.7 L254.5,226.6 L254.8,228.1 L255.0,230.1 L255.3,232.5 L255.5,235.2 L255.8,238.3 L256.0,241.5 L256.3,244.7 L256.6,247.8 L256.8,250.8 L257.1,253.4 L257.3,255.6 L257.6,257.3 L257.8,258.5 L258.1,259.0 L258.3,258.7 L258.6,258.2 L258.8,257.3 L259.1,256.3 L259.3,255.0 L259.6,253.5 L259.8,251.8 L260.1,250.0 L260.3,248.1 L260.6,246.1 L260.8,244.2 L261.1,242.2 L261.3,240.3 L261.6,238.5 L261.8,236.9 L262.1,235.4 L262.3,234.1 L262.6,233.0 L262.8,232.1 L263.1,233.4 L263.3,235.1 L263.6,237.3 L263.8,239.7 L264.1,242.3 L264.3,245.1 L264.6,247.9 L264.8,250.7 L265.1,253.3 L265.3,255.6 L265.6,257.5 L265.8,259.0 L266.1,260.0 L266.3,260.5 L266.6,260.2 L266.8,259.5 L267.1,258.6 L267.3,257.4 L267.6,255.9 L267.8,254.2 L268.1,252.3 L268.3,250.3 L268.6,248.1 L268.9,245.8 L269.1,243.5 L269.4,241.1 L269.6,238.9 L269.9,236.7 L270.1,234.6 L270.4,232.7 L270.6,231.0 L270.9,229.5 L271.1,228.2 L271.4,227.2 L271.7,228.8 L271.9,230.8 L272.2,233.3 L272.4,236.2 L272.7,239.3 L272.9,242.6 L273.2,245.9 L273.5,249.2 L273.7,252.3 L274.0,255.0 L274.2,257.3 L274.5,259.1 L274.7,260.2 L275.0,260.8 L275.3,260.5 L275.5,259.8 L275.8,258.8 L276.0,257.6 L276.3,256.0 L276.5,254.2 L276.8,252.2 L277.0,250.1 L277.3,247.8 L277.6,245.4 L277.8,242.9 L278.1,240.5 L278.3,238.1 L278.6,235.8 L278.8,233.7 L279.1,231.7 L279.3,229.9 L279.6,228.3 L279.8,227.0 L280.1,225.9 L280.3,227.5 L280.6,229.7 L280.8,232.3 L281.1,235.3 L281.3,238.6 L281.6,242.1 L281.8,245.6 L282.0,249.0 L282.3,252.2 L282.5,255.1 L282.8,257.5 L283.0,259.4 L283.3,260.6 L283.5,261.2 L283.8,260.9 L284.0,260.3 L284.3,259.3 L284.5,258.1 L284.8,256.7 L285.0,255.0 L285.3,253.1 L285.5,251.0 L285.8,248.8 L286.1,246.6 L286.3,244.3 L286.6,242.0 L286.8,239.7 L287.1,237.5 L287.3,235.5 L287.6,233.6 L287.8,231.9 L288.1,230.4 L288.3,229.1 L288.6,228.1 L288.9,229.9 L289.1,232.2 L289.4,235.1 L289.6,238.4 L289.9,242.0 L290.1,245.7 L290.4,249.4 L290.6,252.9 L290.9,256.1 L291.1,258.8 L291.4,260.9 L291.6,262.3 L291.9,263.0 L292.1,262.7 L292.4,262.1 L292.6,261.2 L292.9,260.1 L293.1,258.7 L293.4,257.1 L293.6,255.3 L293.9,253.3 L294.1,251.1 L294.4,248.9 L294.6,246.6 L294.9,244.3 L295.1,241.9 L295.4,239.6 L295.6,237.3 L295.9,235.2 L296.1,233.2 L296.4,231.3 L296.6,229.7 L296.9,228.2 L297.1,226.9 L297.4,225.9 L297.7,227.9 L297.9,230.7 L298.2,234.0 L298.4,237.9 L298.7,242.0 L298.9,246.2 L299.2,250.3 L299.5,254.1 L299.7,257.3 L300.0,259.8 L300.2,261.5 L300.5,262.3 L300.7,262.0 L301.0,261.4 L301.2,260.6 L301.5,259.5 L301.7,258.1 L302.0,256.6 L302.2,254.8 L302.5,252.9 L302.7,250.8 L303.0,248.6 L303.2,246.4 L303.4,244.1 L303.7,241.8 L303.9,239.6 L304.2,237.4 L304.4,235.3 L304.7,233.4 L304.9,231.6 L305.2,229.9 L305.4,228.5 L305.7,227.3 L305.9,226.3 L306.2,227.9 L306.4,230.0 L306.7,232.6 L306.9,235.6 L307.2,238.8 L307.4,242.2 L307.7,245.7 L308.0,249.0 L308.2,252.2 L308.5,255.0 L308.7,257.4 L309.0,259.2 L309.2,260.4 L309.5,261.0 L309.8,260.7 L310.0,260.0 L310.3,259.0 L310.5,257.8 L310.8,256.3 L311.0,254.5 L311.3,252.5 L311.5,250.4 L311.8,248.1 L312.1,245.7 L312.3,243.3 L312.6,240.9 L312.8,238.5 L313.1,236.3 L313.3,234.1 L313.6,232.1 L313.8,230.3 L314.1,228.8 L314.3,227.5 L314.6,226.4 L314.8,227.7 L315.1,229.5 L315.3,231.6 L315.6,234.0 L315.8,236.6 L316.1,239.4 L316.3,242.3 L316.6,245.2 L316.8,247.9 L317.1,250.5 L317.3,252.7 L317.6,254.6 L317.8,256.1 L318.1,257.0 L318.3,257.5 L318.5,257.3 L318.8,256.8 L319.0,256.1 L319.3,255.3 L319.5,254.2 L319.8,253.0 L320.0,251.6 L320.3,250.1 L320.5,248.5 L320.8,246.8 L321.0,245.1 L321.3,243.4 L321.5,241.6 L321.8,240.0 L322.0,238.4 L322.3,236.9 L322.5,235.5 L322.8,234.2 L323.0,233.1 L323.3,232.2 L323.5,231.4 L323.8,232.9 L324.0,234.9 L324.3,237.3 L324.5,240.1 L324.8,243.1 L325.0,246.2 L325.3,249.4 L325.5,252.3 L325.8,255.0 L326.0,257.3 L326.3,259.1 L326.5,260.2 L326.8,260.8 L327.1,260.5 L327.3,260.0 L327.6,259.2 L327.8,258.2 L328.1,257.0 L328.3,255.5 L328.6,253.9 L328.8,252.1 L329.1,250.2 L329.3,248.2 L329.6,246.2 L329.8,244.1 L330.1,242.0 L330.3,239.9 L330.6,237.9 L330.8,236.0 L331.1,234.2 L331.3,232.5 L331.6,231.0 L331.8,229.7 L332.1,228.6 L332.3,227.7 L332.5,229.3 L332.8,231.5 L333.0,234.2 L333.3,237.2 L333.5,240.5 L333.8,244.0 L334.0,247.4 L334.3,250.7 L334.5,253.6 L334.8,256.1 L335.0,258.1 L335.3,259.4 L335.5,260.0 L335.8,259.7 L336.0,259.2 L336.3,258.4 L336.5,257.4 L336.8,256.2 L337.0,254.7 L337.3,253.1 L337.5,251.4 L337.8,249.5 L338.0,247.5 L338.3,245.5 L338.5,243.5 L338.8,241.5 L339.0,239.5 L339.3,237.6 L339.5,235.9 L339.8,234.2 L340.0,232.8 L340.3,231.5 L340.5,230.4 L340.8,229.5 L341.0,230.8 L341.3,232.5 L341.5,234.6 L341.8,237.0 L342.0,239.7 L342.3,242.5 L342.5,245.4 L342.8,248.2 L343.0,251.0 L343.3,253.5 L343.5,255.7 L343.8,257.6 L344.0,259.1 L344.3,260.0 L344.5,260.5 L344.8,260.2 L345.0,259.6 L345.2,258.7 L345.5,257.5 L345.8,256.1 L346.0,254.5 L346.2,252.6 L346.5,250.7 L346.8,248.5 L347.0,246.4 L347.2,244.1 L347.5,241.9 L347.8,239.7 L348.0,237.6 L348.2,235.6 L348.5,233.8 L348.8,232.2 L349.0,230.7 L349.2,229.5 L349.5,228.5 L349.7,229.9 L350.0,231.6 L350.2,233.8 L350.5,236.3 L350.7,239.0 L351.0,241.9 L351.2,244.9 L351.5,247.8 L351.7,250.7 L352.0,253.3 L352.2,255.6 L352.5,257.5 L352.7,259.0 L353.0,260.0 L353.2,260.5 L353.4,260.2 L353.7,259.7 L353.9,258.9 L354.2,257.9 L354.4,256.7 L354.7,255.3 L354.9,253.7 L355.2,251.9 L355.4,250.0 L355.7,248.0 L355.9,246.0 L356.1,243.9 L356.4,241.8 L356.6,239.8 L356.9,237.8 L357.1,235.9 L357.4,234.1 L357.6,232.5 L357.9,231.0 L358.1,229.7 L358.4,228.6 L358.6,227.7 L358.9,229.4 L359.1,231.7 L359.4,234.5 L359.6,237.7 L359.9,241.2 L360.1,244.9 L360.4,248.5 L360.6,251.9 L360.9,255.0 L361.1,257.6 L361.4,259.7 L361.6,261.1 L361.9,261.7 L362.1,261.4 L362.4,260.9 L362.6,260.1 L362.9,259.0 L363.1,257.8 L363.4,256.3 L363.6,254.6 L363.9,252.8 L364.1,250.8 L364.4,248.8 L364.6,246.7 L364.9,244.5 L365.1,242.4 L365.4,240.2 L365.6,238.2 L365.9,236.2 L366.1,234.4 L366.4,232.7 L366.6,231.1 L366.9,229.8 L367.1,228.6 L367.4,227.7 L367.6,229.2 L367.9,231.1 L368.1,233.5 L368.4,236.2 L368.6,239.1 L368.9,242.2 L369.1,245.4 L369.3,248.5 L369.6,251.3 L369.8,253.9 L370.1,256.1 L370.3,257.8 L370.6,258.9 L370.8,259.4 L371.0,259.1 L371.3,258.7 L371.5,258.0 L371.8,257.0 L372.0,255.9 L372.3,254.6 L372.5,253.2 L372.8,251.6 L373.0,249.8 L373.3,248.0 L373.5,246.2 L373.7,244.3 L374.0,242.4 L374.2,240.5 L374.5,238.7 L374.7,237.0 L375.0,235.4 L375.2,233.9 L375.5,232.5 L375.7,231.3 L376.0,230.3 L376.2,229.5 L376.5,231.2 L376.7,233.6 L377.0,236.5 L377.2,239.8 L377.5,243.4 L377.8,247.1 L378.0,250.6 L378.3,253.9 L378.5,256.7 L378.8,258.9 L379.0,260.3 L379.3,261.0 L379.5,260.7 L379.8,260.1 L380.0,259.2 L380.3,258.0 L380.5,256.6 L380.8,255.0 L381.0,253.2 L381.3,251.2 L381.5,249.0 L381.8,246.8 L382.0,244.5 L382.3,242.2 L382.5,239.9 L382.8,237.7 L383.0,235.6 L383.3,233.5 L383.5,231.7 L383.8,230.0 L384.0,228.6 L384.3,227.3 L384.5,226.3 L384.7,228.0 L385.0,230.2 L385.2,233.0 L385.5,236.1 L385.7,239.5 L386.0,243.1 L386.2,246.8 L386.4,250.3 L386.7,253.7 L386.9,256.7 L387.2,259.2 L387.4,261.1 L387.7,262.4 L387.9,263.0 L388.2,262.7 L388.4,262.0 L388.7,261.0 L388.9,259.8 L389.2,258.3 L389.4,256.5 L389.7,254.5 L389.9,252.3 L390.2,250.0 L390.4,247.6 L390.7,245.1 L390.9,242.6 L391.2,240.2 L391.4,237.7 L391.7,235.4 L391.9,233.3 L392.2,231.2 L392.4,229.4 L392.7,227.8 L392.9,226.5 L393.2,225.4 L393.5,227.5 L393.7,230.4 L394.0,233.9 L394.2,237.9 L394.5,242.2 L394.8,246.7 L395.0,251.0 L395.3,254.9 L395.5,258.3 L395.8,260.9 L396.0,262.7 L396.3,263.5 L396.6,263.2 L396.8,262.6 L397.1,261.8 L397.3,260.7 L397.6,259.4 L397.8,257.8 L398.1,256.1 L398.3,254.2 L398.6,252.1 L398.8,250.0 L399.1,247.8 L399.3,245.5 L399.6,243.3 L399.8,241.0 L400.1,238.9 L400.3,236.8 L400.6,234.9 L400.8,233.1 L401.1,231.5 L401.3,230.1 L401.6,228.9 L401.8,227.9 L402.0,229.5 L402.3,231.7 L402.5,234.3 L402.8,237.4 L403.0,240.7 L403.3,244.1 L403.5,247.5 L403.8,250.8 L404.0,253.7 L404.3,256.2 L404.5,258.1 L404.8,259.4 L405.0,260.0 L405.2,259.7 L405.5,259.2 L405.8,258.5 L406.0,257.5 L406.2,256.3 L406.5,254.9 L406.8,253.3 L407.0,251.6 L407.2,249.8 L407.5,247.9 L407.8,245.9 L408.0,243.9 L408.2,241.9 L408.5,239.9 L408.8,237.9 L409.0,236.1 L409.2,234.4 L409.5,232.8 L409.8,231.3 L410.0,230.1 L410.2,229.0 L410.5,228.1 L410.7,229.8 L411.0,232.1 L411.2,235.0 L411.5,238.2 L411.7,241.7 L412.0,245.4 L412.2,249.0 L412.5,252.4 L412.7,255.6 L413.0,258.2 L413.2,260.3 L413.5,261.7 L413.7,262.3 L414.0,262.0 L414.2,261.3 L414.5,260.4 L414.7,259.2 L415.0,257.7 L415.2,256.0 L415.5,254.1 L415.7,252.0 L416.0,249.7 L416.2,247.4 L416.5,245.0 L416.7,242.6 L417.0,240.2 L417.2,237.9 L417.5,235.6 L417.7,233.5 L418.0,231.6 L418.2,229.8 L418.5,228.3 L418.7,227.0 L419.0,225.9 L419.3,227.7 L419.5,230.1 L419.8,233.1 L420.0,236.5 L420.3,240.1 L420.5,244.0 L420.8,247.8 L421.0,251.4 L421.3,254.7 L421.5,257.4 L421.8,259.6 L422.0,261.0 L422.3,261.7 L422.6,261.4 L422.8,260.8 L423.1,259.9 L423.3,258.8 L423.6,257.4 L423.8,255.8 L424.1,254.0 L424.3,252.0 L424.6,250.0 L424.9,247.8 L425.1,245.6 L425.4,243.4 L425.6,241.3 L425.9,239.2 L426.1,237.3 L426.4,235.5 L426.6,233.9 L426.9,232.5 L427.1,231.3 L427.4,230.3 L427.6,231.6 L427.9,233.4 L428.1,235.6 L428.4,238.1 L428.6,240.8 L428.9,243.6 L429.1,246.5 L429.3,249.4 L429.6,252.0 L429.8,254.4 L430.1,256.4 L430.3,257.9 L430.6,258.9 L430.8,259.4 L431.1,259.1 L431.3,258.6 L431.6,257.8 L431.8,256.7 L432.1,255.5 L432.3,254.0 L432.6,252.3 L432.8,250.5 L433.1,248.5 L433.3,246.5 L433.6,244.4 L433.8,242.2 L434.1,240.1 L434.3,237.9 L434.6,235.9 L434.8,233.9 L435.1,232.1 L435.3,230.4 L435.6,228.8 L435.8,227.5 L436.1,226.3 L436.3,225.4 L436.6,227.0 L436.8,229.0 L437.1,231.5 L437.3,234.4 L437.6,237.5 L437.8,240.8 L438.1,244.1 L438.4,247.4 L438.6,250.5 L438.9,253.2 L439.1,255.5 L439.4,257.3 L439.6,258.4 L439.9,259.0 L440.2,258.7 L440.4,258.2 L440.7,257.4 L440.9,256.3 L441.2,255.0 L441.4,253.6 L441.7,252.0 L441.9,250.2 L442.2,248.4 L442.5,246.5 L442.7,244.7 L443.0,242.9 L443.2,241.2 L443.5,239.6 L443.7,238.1 L444.0,236.9 L444.2,235.8 L444.5,235.0 L444.8,236.4 L445.1,238.6 L445.3,241.4 L445.6,244.5" fill="none" stroke="#262626" stroke-width="1.15" stroke-linejoin="round"/>
<line class="dot" x1="127.4" y1="30.6" x2="127.4" y2="83.8"/>
<line class="dot" x1="136.4" y1="30.6" x2="136.4" y2="83.8"/>
<line class="dot" x1="169.1" y1="30.6" x2="169.1" y2="83.8"/>
<line class="dot" x1="203.6" y1="30.6" x2="203.6" y2="83.8"/>
<line class="dot" x1="333.1" y1="30.6" x2="333.1" y2="83.8"/>
<line class="dot" x1="56.7" y1="43.2" x2="80.4" y2="43.2"/>
<line class="dot" x1="56.7" y1="57.4" x2="80.4" y2="57.4"/>
<line class="dot" style="stroke-dasharray:1.15 1.05" x1="357.6" y1="48.8" x2="448.6" y2="48.8"/>
<line class="dot" style="stroke-dasharray:1.15 1.05" x1="358.4" y1="82.5" x2="445.0" y2="82.5"/>
<line class="ar" x1="70.8" y1="28.4" x2="70.8" y2="34.2"/><polygon class="ah" points="70.8,39.8 67.6,33.2 74.0,33.2"/>
<line class="ar" x1="70.8" y1="70.2" x2="70.8" y2="64.2"/><polygon class="ah" points="70.8,58.6 74.0,65.2 67.6,65.2"/>
<line class="ar" x1="398.4" y1="35.6" x2="398.4" y2="41.8"/><polygon class="ah" points="398.4,47.4 395.2,40.8 401.6,40.8"/>
<line class="ar" x1="399.8" y1="96.4" x2="399.8" y2="90.8"/><polygon class="ah" points="399.8,85.2 403.0,91.8 396.6,91.8"/>
<line class="ar" x1="110.6" y1="34.3" x2="119.4" y2="34.3"/><polygon class="ah" points="125.0,34.3 118.4,37.5 118.4,31.1"/>
<line class="ar" x1="153.6" y1="34.3" x2="144.0" y2="34.3"/><polygon class="ah" points="138.4,34.3 145.0,31.1 145.0,37.5"/>
<line class="ar" x1="184.6" y1="34.3" x2="176.4" y2="34.3"/><polygon class="ah" points="170.8,34.3 177.4,31.1 177.4,37.5"/>
<line class="ar" x1="187.2" y1="34.3" x2="196.2" y2="34.3"/><polygon class="ah" points="201.8,34.3 195.2,37.5 195.2,31.1"/>
<line class="ar" x1="220.0" y1="34.3" x2="211.0" y2="34.3"/><polygon class="ah" points="205.4,34.3 212.0,31.1 212.0,37.5"/>
<line class="ar" x1="315.6" y1="34.3" x2="325.2" y2="34.3"/><polygon class="ah" points="330.8,34.3 324.2,37.5 324.2,31.1"/>
<text class="lb" x="72.2" y="19.5" text-anchor="middle">Pulse pressure</text>
<text class="lb" x="130.7" y="14.5" text-anchor="middle">Heart Rate</text>
<text class="lb" x="130.7" y="24.3" text-anchor="middle">(HRV)</text>
<text class="lb" x="186.5" y="13.6" text-anchor="middle">Respiration</text>
<text class="lb" x="186.2" y="22.8" text-anchor="middle">(metabolism)</text>
<text class="lb" x="267.3" y="37.0" text-anchor="middle">Vasomotion</text>
<text class="lb" x="429.3" y="58.6" text-anchor="middle">Perfusion</text>
<text class="lb" x="429.3" y="68.2" text-anchor="middle">variable</text>
<text class="lb" style="font-size:9.55px" x="468.0" y="67.0">Data original</text>
<text class="lb" style="font-size:9.55px" x="466.4" y="124.6">0.2~0.5Hz bandpass</text>
<text class="lb" style="font-size:9.55px" x="467.0" y="185.0">Data sliding mean</text>
<text class="lb" style="font-size:9.55px" x="466.4" y="246.5">0.5~4Hz bandpass</text>
<text class="yl" transform="translate(14.5,164.0) rotate(-90) scale(0.93,1)">Amplitude（a.u.）</text>
</svg></body></html>
